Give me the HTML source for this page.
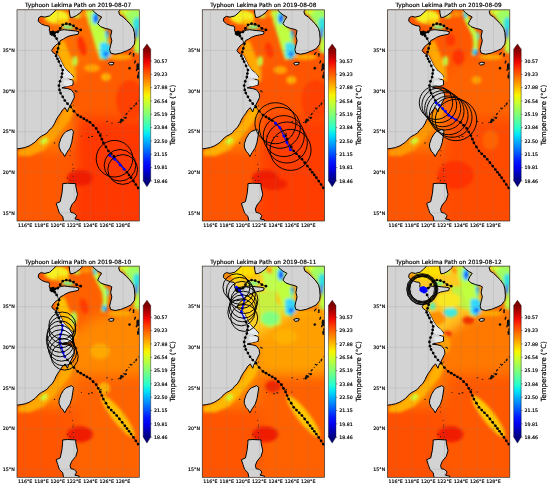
<!DOCTYPE html>
<html><head><meta charset="utf-8"><style>
html,body{margin:0;padding:0;background:#fff;overflow:hidden;}
body>svg{display:block;filter:blur(0.3px);}
text{font-family:"DejaVu Sans","Liberation Sans",sans-serif;fill:#000;stroke:#000;stroke-width:0.18px;}
.t{font-size:5.8px;}
.k{font-size:4.75px;}
.c{font-size:4.7px;}
.l{font-size:7px;}
</style></head><body>
<svg width="550" height="488" viewBox="0 0 550 488">
<defs>

<linearGradient id="jet" x1="0" y1="0" x2="0" y2="1"><stop offset="0.000" stop-color="#800000"/><stop offset="0.050" stop-color="#b60000"/><stop offset="0.100" stop-color="#f10800"/><stop offset="0.150" stop-color="#ff3800"/><stop offset="0.200" stop-color="#ff6800"/><stop offset="0.250" stop-color="#ff9400"/><stop offset="0.300" stop-color="#ffc400"/><stop offset="0.350" stop-color="#f8f500"/><stop offset="0.400" stop-color="#ceff29"/><stop offset="0.450" stop-color="#a4ff53"/><stop offset="0.500" stop-color="#7dff7a"/><stop offset="0.550" stop-color="#53ffa4"/><stop offset="0.600" stop-color="#29ffce"/><stop offset="0.650" stop-color="#00e4f8"/><stop offset="0.700" stop-color="#00b0ff"/><stop offset="0.750" stop-color="#0080ff"/><stop offset="0.800" stop-color="#004cff"/><stop offset="0.850" stop-color="#0018ff"/><stop offset="0.900" stop-color="#0000f1"/><stop offset="0.950" stop-color="#0000b6"/><stop offset="1.000" stop-color="#000080"/></linearGradient>


<filter id="bb" x="-20%" y="-20%" width="140%" height="140%"><feGaussianBlur stdDeviation="6"/></filter>
<filter id="bl" x="-20%" y="-20%" width="140%" height="140%"><feGaussianBlur stdDeviation="1.6"/></filter>

</defs>

<g>
<text class="t" x="78.15" y="7.4" text-anchor="middle">Typhoon Lekima Path on 2019-08-07</text>
<svg x="17" y="9.8" width="122.3" height="211.2" viewBox="17 9.8 122.3 211.2" preserveAspectRatio="none" overflow="hidden">
<rect x="17" y="9.8" width="122.3" height="211.2" fill="#ff5200"/><g filter="url(#bb)"><polygon points="10,0 115,0 112,40 108,62 95,72 70,80 10,80" fill="#ff6c00"/><polygon points="95,62 112,58 150,40 150,128 72,128 68,82" fill="#ff5c00"/><polygon points="72,118 150,118 150,230 70,230 78,160" fill="#ff3800"/><polygon points="0,150 70,150 76,160 70,230 0,230" fill="#ff5800"/><polygon points="30,110 72,105 75,130 70,150 30,150" fill="#ff7800"/></g><g filter="url(#bl)"><ellipse cx="80" cy="178" rx="13" ry="8" fill="#f01c00"/><polygon points="18,150 30,146 40,138 50,130 58,121 64,110 70,104 74,110 70,120 62,130 54,140 44,150 30,156 18,156" fill="#ffa000"/><ellipse cx="44" cy="141" rx="4" ry="2.5" fill="#c8ff30" transform="rotate(-35 44 141)"/><ellipse cx="65" cy="117" rx="5" ry="9" fill="#ffa000" transform="rotate(35 65 117)"/><ellipse cx="82" cy="46" rx="4" ry="10" fill="#ff3000" transform="rotate(-15 82 46)"/><ellipse cx="130" cy="100" rx="14" ry="20" fill="#ff4000"/><polygon points="57,44 64,40 70,55 76,70 76,82 70,80 64,68 60,58 56,50" fill="#ffb000"/><ellipse cx="75" cy="61" rx="2.5" ry="5" fill="#c0ff40"/><ellipse cx="106" cy="77" rx="5" ry="4" fill="#ffb000"/><ellipse cx="92" cy="68" rx="8" ry="4" fill="#ffa000"/><ellipse cx="57" cy="17" rx="12" ry="7" fill="#f4f020"/><ellipse cx="62" cy="22" rx="7" ry="3" fill="#ffc000"/><ellipse cx="41" cy="20" rx="3" ry="3" fill="#ff5000"/><ellipse cx="86" cy="14" rx="5" ry="3" fill="#ff9000"/><ellipse cx="77" cy="16" rx="3.5" ry="2.2" fill="#c8f040"/><ellipse cx="68" cy="27" rx="6" ry="2" fill="#70ff90"/><polygon points="86,10 95,10 100,18 104,28 108,38 110,48 108,58 100,60 96,48 92,34 88,22" fill="#c0ff40"/><ellipse cx="95.5" cy="18" rx="3.5" ry="6.5" fill="#30d8ff"/><polygon points="100,43 106,42 111,46 111,56 106,60 100,57" fill="#30d8ff"/><ellipse cx="106.8" cy="35" rx="1.8" ry="5" fill="#50ecd0"/><ellipse cx="96" cy="18.7" rx="2" ry="4" fill="#0030ff"/><ellipse cx="106" cy="54" rx="2.2" ry="2.2" fill="#0030ff"/><ellipse cx="107.2" cy="33" rx="1.3" ry="2.2" fill="#0070ff"/><polygon points="119,9 141,9 141,54 134,52 136,40 131,26 124,16" fill="#a0ff60"/><ellipse cx="124" cy="12" rx="5" ry="3" fill="#d0ff30"/><ellipse cx="137" cy="24" rx="4" ry="7" fill="#30e0e0"/><ellipse cx="137" cy="46" rx="3" ry="6" fill="#c0ff40"/><ellipse cx="136.3" cy="33" rx="1.5" ry="5" fill="#0050ff"/><ellipse cx="120" cy="57" rx="12" ry="3" fill="#ffa800"/></g><g fill="#d3d3d3" stroke="#000" stroke-width="1" stroke-linejoin="round"><polygon points="4.77,151.14 17,148.87 21.08,148.3 25.15,147.48 29.23,145.86 31.68,144.4 34.94,142.2 39.18,137.66 41.46,136.11 43.9,134.89 47.17,132.86 49.2,130.02 52.06,127.58 54.67,123.28 55.73,120.68 58.01,116.7 60.21,113.77 62.49,109.96 65.1,107.68 67.47,111.99 68.36,108.9 69.83,106.46 72.11,101.91 74.4,97.28 73.91,93.3 71.14,89.73 67.55,88.59 61.92,87.86 67.55,86.16 73.01,84.94 73.01,80.47 68.36,78.44 65.92,76.81 69.99,76.41 73.42,76.81 70.24,73.08 66.49,69.91 63.72,66.58 61.03,61.14 58.17,55.53 55.32,54.07 52.87,52.45 51.65,50.41 53.69,47.17 56.13,44.73 59.4,42.7 60.21,40.67 63.47,39.04 65.92,37.42 69.99,35.79 74.07,34.98 78.15,34.17 78.96,31.73 75.7,30.92 70.81,30.51 67.55,30.11 64.29,29.7 61.03,30.11 57.77,31.73 53.69,33.36 50.43,32.95 49.2,30.11 49.61,28.08 48.8,26.05 45.54,25.64 41.46,24.02 38.2,21.17 38.61,17.92 41.05,16.3 44.72,17.11 49.61,15.89 52.87,13.05 56.13,9.8 61.84,4.93 69.18,4.93 69.18,9.8 69.59,13.86 70.4,17.52 73.26,17.11 76.52,15.49 79.78,13.05 81.82,11.02 83.04,7.36 92.66,7.36 92.66,10.29 94.86,12.48 97.71,14.84 101.71,17.03 99.35,20.36 97.71,23.77 100.49,26.61 105.05,28.32 109.62,29.38 111.82,30.51 110.68,36.2 111.82,40.67 110.68,45.22 109.62,49.68 110.68,53.1 115.16,54.23 120.79,53.1 126.49,50.82 130.98,48.63 134.4,44.08 134.89,39.61 134.4,32.79 133.18,28.32 129.92,23.77 126.49,20.36 123.07,17.03 119.73,14.84 118.59,11.42 119.73,10.29 121.36,5.74 147.45,1.68 147.45,-30.81 -23.77,-30.81 -23.77,151.14"/><polygon points="71.3,129.37 73.5,131.08 72.85,135.71 71.79,142.2 69.99,147.89 66.73,152.76 64.7,156.58 63.06,153.58 60.78,151.14 59.07,147.08 59.07,143.83 61.03,138.14 63.47,134.08 65.84,131.64"/><polygon points="62.66,183.63 67.55,183.23 75.78,183.63 75.78,186.23 77.5,194.44 75.78,200.12 71.71,205 70.08,209.14 70.89,212.39 74.23,213.2 76.6,215.72 74.97,218.97 79.13,219.78 79.78,225.06 63.47,225.06 63.47,220.59 62.66,216.37 59.4,213.2 57.77,208.33 56.13,203.37 60.21,201.67 61.92,193.46 62.66,186.23"/><polygon points="108.31,63.41 110.76,62.19 114.02,62.6 113.21,64.63 109.94,65.04"/><ellipse cx="133.59" cy="54.48" rx="0.86" ry="1.42" fill="#111" stroke="none"/><ellipse cx="129.51" cy="68.29" rx="1.26" ry="1.42" fill="#111" stroke="none"/><ellipse cx="138.07" cy="66.66" rx="1.71" ry="3.41" fill="#111" stroke="none"/><ellipse cx="138.07" cy="76.41" rx="1.14" ry="2.27" fill="#111" stroke="none"/><ellipse cx="136.03" cy="104.03" rx="0.86" ry="1.14" fill="#111" stroke="none"/><ellipse cx="134.4" cy="105.65" rx="0.68" ry="0.57" fill="#111" stroke="none"/><ellipse cx="130.33" cy="108.09" rx="0.86" ry="0.57" fill="#111" stroke="none"/><ellipse cx="125.43" cy="117.84" rx="1.43" ry="1.14" fill="#111" stroke="none"/><ellipse cx="122.17" cy="120.27" rx="1.71" ry="1.42" fill="#111" stroke="none"/><ellipse cx="120.54" cy="121.9" rx="1.14" ry="1.42" fill="#111" stroke="none"/><ellipse cx="106.68" cy="135.71" rx="0.57" ry="0.5" fill="#111" stroke="none"/><ellipse cx="100.98" cy="133.27" rx="0.86" ry="0.57" fill="#111" stroke="none"/><ellipse cx="92.01" cy="136.52" rx="1.14" ry="0.57" fill="#111" stroke="none"/><ellipse cx="88.75" cy="137.33" rx="0.86" ry="0.57" fill="#111" stroke="none"/><ellipse cx="81.41" cy="136.11" rx="0.57" ry="0.5" fill="#111" stroke="none"/><ellipse cx="69.99" cy="155.61" rx="0.5" ry="0.5" fill="#111" stroke="none"/><ellipse cx="70.4" cy="150.73" rx="0.5" ry="0.5" fill="#111" stroke="none"/><ellipse cx="73.26" cy="168.6" rx="0.5" ry="0.5" fill="#111" stroke="none"/><ellipse cx="72.44" cy="164.14" rx="0.5" ry="0.5" fill="#111" stroke="none"/><ellipse cx="54.5" cy="143.02" rx="0.68" ry="0.68" fill="#111" stroke="none"/><ellipse cx="67.55" cy="177.95" rx="0.57" ry="0.57" fill="#111" stroke="none"/><ellipse cx="69.99" cy="180.38" rx="0.57" ry="0.5" fill="#111" stroke="none"/><ellipse cx="73.26" cy="176.32" rx="0.5" ry="0.5" fill="#111" stroke="none"/><ellipse cx="73.66" cy="180.79" rx="0.5" ry="0.5" fill="#111" stroke="none"/><ellipse cx="72.85" cy="170.64" rx="0.5" ry="0.5" fill="#111" stroke="none"/><ellipse cx="75.7" cy="91.03" rx="1.14" ry="0.68" fill="#111" stroke="none"/><ellipse cx="76.92" cy="91.84" rx="0.68" ry="0.57" fill="#111" stroke="none"/><ellipse cx="73.26" cy="105.65" rx="0.5" ry="0.5" fill="#111" stroke="none"/><ellipse cx="130" cy="53.5" rx="2" ry="0.6" transform="rotate(-50 130 53.5)" fill="#111" stroke="none"/><ellipse cx="133.5" cy="56" rx="1" ry="0.6" transform="rotate(0 133.5 56)" fill="#111" stroke="none"/><ellipse cx="135" cy="62" rx="0.8" ry="1.8" transform="rotate(20 135 62)" fill="#111" stroke="none"/><ellipse cx="137.5" cy="65" rx="0.7" ry="1.5" transform="rotate(0 137.5 65)" fill="#111" stroke="none"/><ellipse cx="136.5" cy="70" rx="0.7" ry="1.2" transform="rotate(0 136.5 70)" fill="#111" stroke="none"/><ellipse cx="138.5" cy="73" rx="0.6" ry="1.6" transform="rotate(0 138.5 73)" fill="#111" stroke="none"/><ellipse cx="138.8" cy="100.5" rx="0.6" ry="0.6" transform="rotate(0 138.8 100.5)" fill="#111" stroke="none"/><ellipse cx="136.5" cy="103" rx="0.9" ry="0.6" transform="rotate(-40 136.5 103)" fill="#111" stroke="none"/><ellipse cx="134" cy="106" rx="0.7" ry="0.5" transform="rotate(0 134 106)" fill="#111" stroke="none"/><ellipse cx="131.5" cy="108.5" rx="1.3" ry="0.6" transform="rotate(-45 131.5 108.5)" fill="#111" stroke="none"/><ellipse cx="129" cy="111" rx="0.6" ry="0.5" transform="rotate(0 129 111)" fill="#111" stroke="none"/><ellipse cx="126.5" cy="114" rx="1.5" ry="0.7" transform="rotate(-50 126.5 114)" fill="#111" stroke="none"/><ellipse cx="123.5" cy="117" rx="0.7" ry="0.5" transform="rotate(0 123.5 117)" fill="#111" stroke="none"/><ellipse cx="121" cy="119.5" rx="1.2" ry="0.6" transform="rotate(-40 121 119.5)" fill="#111" stroke="none"/><ellipse cx="118.5" cy="122.5" rx="0.8" ry="0.5" transform="rotate(0 118.5 122.5)" fill="#111" stroke="none"/><ellipse cx="112" cy="123" rx="0.8" ry="0.5" transform="rotate(0 112 123)" fill="#111" stroke="none"/><ellipse cx="107" cy="121.5" rx="0.9" ry="0.6" transform="rotate(-20 107 121.5)" fill="#111" stroke="none"/></g><g fill="#e6e9ec"><polygon points="56.5,54.5 58.2,55.5 61,61.1 63.75,66.6 66.5,69.9 63,70.5 59.5,62 56,55.5"/><polygon points="62.5,70.8 66.5,70.2 70.2,73.3 73,76.6 72.5,79 67,78.5 63,76.5"/><polygon points="64,80.5 72.5,80.5 72,85 66,86.5 63.5,84"/></g><path d="M25.15 9.8V221M41.46 9.8V221M57.77 9.8V221M74.07 9.8V221M90.38 9.8V221M106.68 9.8V221M122.99 9.8V221M17 212.88H139.3M17 172.26H139.3M17 131.64H139.3M17 91.03H139.3M17 50.41H139.3" stroke="#808080" stroke-opacity="0.28" stroke-width="0.6" fill="none"/><g fill="#000"><polyline points="138.2,187.9 131.1,177.7 124.9,169.5 116.7,159.2 108.5,151 103.4,142.8 100.3,135.6 96.2,128.4 90,122.3 77.7,115.1 73.9,111.2 70.7,106.9 67.5,103.7 64.8,100.5 62.7,96.8 60.55,93.1 59.5,89.9 58.95,85.6 60,81.3 61.6,77.1 62.7,70.1 58.95,61.6 56.1,56 57.1,52 58.1,48.4 59.2,43.7 56.6,38.6 53,33.5 57.6,31.9 60.2,28.4 62.75,24.8 66.3,23.7 69.9,24.3 73.5,25.8 76.6,28.4 80.7,29.9" fill="none" stroke="#000" stroke-width="0.7"/><circle cx="138.2" cy="187.9" r="1.35"/><circle cx="135.83" cy="184.5" r="1.35"/><circle cx="133.47" cy="181.1" r="1.35"/><circle cx="131.1" cy="177.7" r="1.35"/><circle cx="129.03" cy="174.97" r="1.35"/><circle cx="126.97" cy="172.23" r="1.35"/><circle cx="113.97" cy="156.47" r="1.35"/><circle cx="111.23" cy="153.73" r="1.35"/><circle cx="108.5" cy="151" r="1.35"/><circle cx="105.95" cy="146.9" r="1.35"/><circle cx="103.4" cy="142.8" r="1.35"/><circle cx="101.85" cy="139.2" r="1.35"/><circle cx="100.3" cy="135.6" r="1.35"/><circle cx="98.25" cy="132" r="1.35"/><circle cx="96.2" cy="128.4" r="1.35"/><circle cx="93.1" cy="125.35" r="1.35"/><circle cx="90" cy="122.3" r="1.35"/><circle cx="86.92" cy="120.5" r="1.35"/><circle cx="83.85" cy="118.7" r="1.35"/><circle cx="80.78" cy="116.9" r="1.35"/><circle cx="77.7" cy="115.1" r="1.35"/><circle cx="73.9" cy="111.2" r="1.35"/><circle cx="70.7" cy="106.9" r="1.35"/><circle cx="67.5" cy="103.7" r="1.35"/><circle cx="64.8" cy="100.5" r="1.35"/><circle cx="62.7" cy="96.8" r="1.35"/><circle cx="60.55" cy="93.1" r="1.35"/><circle cx="59.5" cy="89.9" r="1.35"/><circle cx="58.95" cy="85.6" r="1.35"/><circle cx="60" cy="81.3" r="1.35"/><circle cx="61.6" cy="77.1" r="1.35"/><circle cx="62.15" cy="73.6" r="1.35"/><circle cx="62.7" cy="70.1" r="1.35"/><circle cx="60.83" cy="65.85" r="1.35"/><circle cx="58.95" cy="61.6" r="1.35"/><circle cx="57.53" cy="58.8" r="1.35"/><circle cx="56.1" cy="56" r="1.35"/><circle cx="57.1" cy="52" r="1.35"/><circle cx="58.1" cy="48.4" r="1.35"/><circle cx="59.2" cy="43.7" r="1.35"/><circle cx="56.6" cy="38.6" r="1.35"/><circle cx="54.8" cy="36.05" r="1.35"/><circle cx="53" cy="33.5" r="1.35"/><circle cx="57.6" cy="31.9" r="1.35"/><circle cx="60.2" cy="28.4" r="1.35"/><circle cx="62.75" cy="24.8" r="1.35"/><circle cx="66.3" cy="23.7" r="1.35"/><circle cx="69.9" cy="24.3" r="1.35"/><circle cx="73.5" cy="25.8" r="1.35"/><circle cx="76.6" cy="28.4" r="1.35"/><circle cx="80.7" cy="29.9" r="1.35"/><circle cx="51" cy="32.2" r="1.3"/><circle cx="53" cy="31.8" r="1.3"/><circle cx="55" cy="32.6" r="1.3"/><circle cx="52" cy="34.6" r="1.3"/><circle cx="54.2" cy="35" r="1.3"/><circle cx="53" cy="33.5" r="1.3"/><circle cx="50.8" cy="33.8" r="1.3"/></g><polyline points="109.7,155.4 114.7,159.2 120.2,165 124.1,169.2" fill="none" stroke="#0000ff" stroke-width="1.1"/><circle cx="109.7" cy="155.4" r="1.45" fill="#0000ff"/><circle cx="114.7" cy="159.2" r="1.45" fill="#0000ff"/><circle cx="120.2" cy="165" r="1.45" fill="#0000ff"/><circle cx="124.1" cy="169.2" r="1.45" fill="#0000ff"/><circle cx="114.5" cy="158.7" r="18.3" fill="none" stroke="#000" stroke-width="0.95"/><circle cx="120" cy="165.3" r="15.8" fill="none" stroke="#000" stroke-width="0.95"/><circle cx="122.7" cy="169.5" r="14.9" fill="none" stroke="#000" stroke-width="0.95"/>
</svg>
<rect x="17" y="9.8" width="122.3" height="211.2" fill="none" stroke="#333" stroke-width="0.7"/>
<text class="k" x="14.8" y="52.12" text-anchor="end">35°N</text>
<text class="k" x="14.8" y="92.73" text-anchor="end">30°N</text>
<text class="k" x="14.8" y="133.35" text-anchor="end">25°N</text>
<text class="k" x="14.8" y="173.96" text-anchor="end">20°N</text>
<text class="k" x="14.8" y="214.58" text-anchor="end">15°N</text>
<text class="k" x="25.15" y="227" text-anchor="middle">116°E</text>
<text class="k" x="41.46" y="227" text-anchor="middle">118°E</text>
<text class="k" x="57.77" y="227" text-anchor="middle">120°E</text>
<text class="k" x="74.07" y="227" text-anchor="middle">122°E</text>
<text class="k" x="90.38" y="227" text-anchor="middle">124°E</text>
<text class="k" x="106.69" y="227" text-anchor="middle">126°E</text>
<text class="k" x="122.99" y="227" text-anchor="middle">128°E</text>
<polygon points="143.2,49.8 143.2,49.2 146.95,43.9 150.7,49.2 150.7,49.8" fill="#800000"/>
<polygon points="143.2,180.2 143.2,180.8 146.95,186.8 150.7,180.8 150.7,180.2" fill="#000080"/>
<rect x="143.2" y="49.2" width="7.5" height="131.6" fill="url(#jet)"/>
<polygon points="143.2,49.2 146.95,43.9 150.7,49.2 150.7,180.8 146.95,186.8 143.2,180.8" fill="none" stroke="#000" stroke-width="0.4"/>
<line x1="150.7" y1="61" x2="152.2" y2="61" stroke="#000" stroke-width="0.4"/>
<text class="c" x="154" y="62.7">30.57</text>
<line x1="150.7" y1="74.32" x2="152.2" y2="74.32" stroke="#000" stroke-width="0.4"/>
<text class="c" x="154" y="76.02">29.23</text>
<line x1="150.7" y1="87.64" x2="152.2" y2="87.64" stroke="#000" stroke-width="0.4"/>
<text class="c" x="154" y="89.34">27.88</text>
<line x1="150.7" y1="100.97" x2="152.2" y2="100.97" stroke="#000" stroke-width="0.4"/>
<text class="c" x="154" y="102.67">26.54</text>
<line x1="150.7" y1="114.29" x2="152.2" y2="114.29" stroke="#000" stroke-width="0.4"/>
<text class="c" x="154" y="115.99">25.19</text>
<line x1="150.7" y1="127.61" x2="152.2" y2="127.61" stroke="#000" stroke-width="0.4"/>
<text class="c" x="154" y="129.31">23.84</text>
<line x1="150.7" y1="140.93" x2="152.2" y2="140.93" stroke="#000" stroke-width="0.4"/>
<text class="c" x="154" y="142.63">22.50</text>
<line x1="150.7" y1="154.26" x2="152.2" y2="154.26" stroke="#000" stroke-width="0.4"/>
<text class="c" x="154" y="155.96">21.15</text>
<line x1="150.7" y1="167.58" x2="152.2" y2="167.58" stroke="#000" stroke-width="0.4"/>
<text class="c" x="154" y="169.28">19.81</text>
<line x1="150.7" y1="180.9" x2="152.2" y2="180.9" stroke="#000" stroke-width="0.4"/>
<text class="c" x="154" y="182.6">18.46</text>
<text class="l" transform="translate(175.4,115.1) rotate(-90)" text-anchor="middle">Temperature (°C)</text>
</g>

<g>
<text class="t" x="263.4" y="7.4" text-anchor="middle">Typhoon Lekima Path on 2019-08-08</text>
<svg x="202.25" y="9.8" width="122.3" height="211.2" viewBox="17 9.8 122.3 211.2" preserveAspectRatio="none" overflow="hidden">
<rect x="17" y="9.8" width="122.3" height="211.2" fill="#ff4c00"/><g filter="url(#bb)"><polygon points="10,0 115,0 112,40 108,62 95,72 70,80 10,80" fill="#ff5c00"/><polygon points="95,62 112,58 150,40 150,128 72,128 68,82" fill="#ff5400"/><polygon points="72,118 150,118 150,230 70,230 78,160" fill="#ff3c00"/><polygon points="0,150 70,150 76,160 70,230 0,230" fill="#ff5400"/><polygon points="30,110 72,105 75,130 70,150 30,150" fill="#ff7800"/></g><g filter="url(#bl)"><ellipse cx="80" cy="178" rx="13" ry="8" fill="#f01c00"/><polygon points="18,150 30,146 40,138 50,130 58,121 64,110 70,104 74,110 70,120 62,130 54,140 44,150 30,156 18,156" fill="#ffb000"/><ellipse cx="44" cy="141" rx="4" ry="2.5" fill="#c8ff30" transform="rotate(-35 44 141)"/><ellipse cx="65" cy="117" rx="5" ry="9" fill="#ffb000" transform="rotate(35 65 117)"/><ellipse cx="88" cy="184" rx="14" ry="6" fill="#f02400"/><ellipse cx="84" cy="50" rx="4" ry="8" fill="#ff3800" transform="rotate(-15 84 50)"/><ellipse cx="130" cy="100" rx="14" ry="20" fill="#ff4000"/><polygon points="57,44 64,40 70,55 76,70 76,82 70,80 64,68 60,58 56,50" fill="#ffa800"/><ellipse cx="75" cy="61" rx="2.5" ry="5" fill="#c0ff40"/><ellipse cx="106" cy="80" rx="5" ry="4" fill="#ffb000"/><ellipse cx="95" cy="70" rx="7" ry="4" fill="#ffa000"/><ellipse cx="57" cy="17" rx="12" ry="7" fill="#f4f020"/><ellipse cx="62" cy="22" rx="7" ry="3" fill="#ffc000"/><ellipse cx="41" cy="20" rx="3" ry="3" fill="#ff5000"/><ellipse cx="86" cy="14" rx="5" ry="3" fill="#ff9000"/><ellipse cx="77" cy="16" rx="3.5" ry="2.2" fill="#c8f040"/><ellipse cx="68" cy="27" rx="6" ry="2" fill="#70ff90"/><polygon points="86,10 95,10 100,18 104,28 108,38 110,48 108,58 100,60 96,48 92,34 88,22" fill="#c0ff40"/><ellipse cx="95.5" cy="18" rx="3.5" ry="6.5" fill="#40e0f0"/><polygon points="100,43 106,42 111,46 111,56 106,60 100,57" fill="#40e0f0"/><ellipse cx="106.8" cy="35" rx="1.8" ry="5" fill="#50ecd0"/><ellipse cx="96" cy="18.7" rx="2" ry="4" fill="#0030ff"/><ellipse cx="106" cy="54" rx="2.2" ry="2.2" fill="#0030ff"/><ellipse cx="107.2" cy="33" rx="1.3" ry="2.2" fill="#0070ff"/><polygon points="119,9 141,9 141,54 134,52 136,40 131,26 124,16" fill="#a0ff60"/><ellipse cx="124" cy="12" rx="5" ry="3" fill="#d0ff30"/><ellipse cx="137" cy="24" rx="4" ry="7" fill="#30e0e0"/><ellipse cx="137" cy="46" rx="3" ry="6" fill="#c0ff40"/><ellipse cx="136.3" cy="33" rx="1.5" ry="5" fill="#0050ff"/><ellipse cx="120" cy="57" rx="12" ry="3" fill="#ffa800"/></g><g fill="#d3d3d3" stroke="#000" stroke-width="1" stroke-linejoin="round"><polygon points="4.77,151.14 17,148.87 21.08,148.3 25.15,147.48 29.23,145.86 31.68,144.4 34.94,142.2 39.18,137.66 41.46,136.11 43.9,134.89 47.17,132.86 49.2,130.02 52.06,127.58 54.67,123.28 55.73,120.68 58.01,116.7 60.21,113.77 62.49,109.96 65.1,107.68 67.47,111.99 68.36,108.9 69.83,106.46 72.11,101.91 74.4,97.28 73.91,93.3 71.14,89.73 67.55,88.59 61.92,87.86 67.55,86.16 73.01,84.94 73.01,80.47 68.36,78.44 65.92,76.81 69.99,76.41 73.42,76.81 70.24,73.08 66.49,69.91 63.72,66.58 61.03,61.14 58.17,55.53 55.32,54.07 52.87,52.45 51.65,50.41 53.69,47.17 56.13,44.73 59.4,42.7 60.21,40.67 63.47,39.04 65.92,37.42 69.99,35.79 74.07,34.98 78.15,34.17 78.96,31.73 75.7,30.92 70.81,30.51 67.55,30.11 64.29,29.7 61.03,30.11 57.77,31.73 53.69,33.36 50.43,32.95 49.2,30.11 49.61,28.08 48.8,26.05 45.54,25.64 41.46,24.02 38.2,21.17 38.61,17.92 41.05,16.3 44.72,17.11 49.61,15.89 52.87,13.05 56.13,9.8 61.84,4.93 69.18,4.93 69.18,9.8 69.59,13.86 70.4,17.52 73.26,17.11 76.52,15.49 79.78,13.05 81.82,11.02 83.04,7.36 92.66,7.36 92.66,10.29 94.86,12.48 97.71,14.84 101.71,17.03 99.35,20.36 97.71,23.77 100.49,26.61 105.05,28.32 109.62,29.38 111.82,30.51 110.68,36.2 111.82,40.67 110.68,45.22 109.62,49.68 110.68,53.1 115.16,54.23 120.79,53.1 126.49,50.82 130.98,48.63 134.4,44.08 134.89,39.61 134.4,32.79 133.18,28.32 129.92,23.77 126.49,20.36 123.07,17.03 119.73,14.84 118.59,11.42 119.73,10.29 121.36,5.74 147.45,1.68 147.45,-30.81 -23.77,-30.81 -23.77,151.14"/><polygon points="71.3,129.37 73.5,131.08 72.85,135.71 71.79,142.2 69.99,147.89 66.73,152.76 64.7,156.58 63.06,153.58 60.78,151.14 59.07,147.08 59.07,143.83 61.03,138.14 63.47,134.08 65.84,131.64"/><polygon points="62.66,183.63 67.55,183.23 75.78,183.63 75.78,186.23 77.5,194.44 75.78,200.12 71.71,205 70.08,209.14 70.89,212.39 74.23,213.2 76.6,215.72 74.97,218.97 79.13,219.78 79.78,225.06 63.47,225.06 63.47,220.59 62.66,216.37 59.4,213.2 57.77,208.33 56.13,203.37 60.21,201.67 61.92,193.46 62.66,186.23"/><polygon points="108.31,63.41 110.76,62.19 114.02,62.6 113.21,64.63 109.94,65.04"/><ellipse cx="133.59" cy="54.48" rx="0.86" ry="1.42" fill="#111" stroke="none"/><ellipse cx="129.51" cy="68.29" rx="1.26" ry="1.42" fill="#111" stroke="none"/><ellipse cx="138.07" cy="66.66" rx="1.71" ry="3.41" fill="#111" stroke="none"/><ellipse cx="138.07" cy="76.41" rx="1.14" ry="2.27" fill="#111" stroke="none"/><ellipse cx="136.03" cy="104.03" rx="0.86" ry="1.14" fill="#111" stroke="none"/><ellipse cx="134.4" cy="105.65" rx="0.68" ry="0.57" fill="#111" stroke="none"/><ellipse cx="130.33" cy="108.09" rx="0.86" ry="0.57" fill="#111" stroke="none"/><ellipse cx="125.43" cy="117.84" rx="1.43" ry="1.14" fill="#111" stroke="none"/><ellipse cx="122.17" cy="120.27" rx="1.71" ry="1.42" fill="#111" stroke="none"/><ellipse cx="120.54" cy="121.9" rx="1.14" ry="1.42" fill="#111" stroke="none"/><ellipse cx="106.68" cy="135.71" rx="0.57" ry="0.5" fill="#111" stroke="none"/><ellipse cx="100.98" cy="133.27" rx="0.86" ry="0.57" fill="#111" stroke="none"/><ellipse cx="92.01" cy="136.52" rx="1.14" ry="0.57" fill="#111" stroke="none"/><ellipse cx="88.75" cy="137.33" rx="0.86" ry="0.57" fill="#111" stroke="none"/><ellipse cx="81.41" cy="136.11" rx="0.57" ry="0.5" fill="#111" stroke="none"/><ellipse cx="69.99" cy="155.61" rx="0.5" ry="0.5" fill="#111" stroke="none"/><ellipse cx="70.4" cy="150.73" rx="0.5" ry="0.5" fill="#111" stroke="none"/><ellipse cx="73.26" cy="168.6" rx="0.5" ry="0.5" fill="#111" stroke="none"/><ellipse cx="72.44" cy="164.14" rx="0.5" ry="0.5" fill="#111" stroke="none"/><ellipse cx="54.5" cy="143.02" rx="0.68" ry="0.68" fill="#111" stroke="none"/><ellipse cx="67.55" cy="177.95" rx="0.57" ry="0.57" fill="#111" stroke="none"/><ellipse cx="69.99" cy="180.38" rx="0.57" ry="0.5" fill="#111" stroke="none"/><ellipse cx="73.26" cy="176.32" rx="0.5" ry="0.5" fill="#111" stroke="none"/><ellipse cx="73.66" cy="180.79" rx="0.5" ry="0.5" fill="#111" stroke="none"/><ellipse cx="72.85" cy="170.64" rx="0.5" ry="0.5" fill="#111" stroke="none"/><ellipse cx="75.7" cy="91.03" rx="1.14" ry="0.68" fill="#111" stroke="none"/><ellipse cx="76.92" cy="91.84" rx="0.68" ry="0.57" fill="#111" stroke="none"/><ellipse cx="73.26" cy="105.65" rx="0.5" ry="0.5" fill="#111" stroke="none"/><ellipse cx="130" cy="53.5" rx="2" ry="0.6" transform="rotate(-50 130 53.5)" fill="#111" stroke="none"/><ellipse cx="133.5" cy="56" rx="1" ry="0.6" transform="rotate(0 133.5 56)" fill="#111" stroke="none"/><ellipse cx="135" cy="62" rx="0.8" ry="1.8" transform="rotate(20 135 62)" fill="#111" stroke="none"/><ellipse cx="137.5" cy="65" rx="0.7" ry="1.5" transform="rotate(0 137.5 65)" fill="#111" stroke="none"/><ellipse cx="136.5" cy="70" rx="0.7" ry="1.2" transform="rotate(0 136.5 70)" fill="#111" stroke="none"/><ellipse cx="138.5" cy="73" rx="0.6" ry="1.6" transform="rotate(0 138.5 73)" fill="#111" stroke="none"/><ellipse cx="138.8" cy="100.5" rx="0.6" ry="0.6" transform="rotate(0 138.8 100.5)" fill="#111" stroke="none"/><ellipse cx="136.5" cy="103" rx="0.9" ry="0.6" transform="rotate(-40 136.5 103)" fill="#111" stroke="none"/><ellipse cx="134" cy="106" rx="0.7" ry="0.5" transform="rotate(0 134 106)" fill="#111" stroke="none"/><ellipse cx="131.5" cy="108.5" rx="1.3" ry="0.6" transform="rotate(-45 131.5 108.5)" fill="#111" stroke="none"/><ellipse cx="129" cy="111" rx="0.6" ry="0.5" transform="rotate(0 129 111)" fill="#111" stroke="none"/><ellipse cx="126.5" cy="114" rx="1.5" ry="0.7" transform="rotate(-50 126.5 114)" fill="#111" stroke="none"/><ellipse cx="123.5" cy="117" rx="0.7" ry="0.5" transform="rotate(0 123.5 117)" fill="#111" stroke="none"/><ellipse cx="121" cy="119.5" rx="1.2" ry="0.6" transform="rotate(-40 121 119.5)" fill="#111" stroke="none"/><ellipse cx="118.5" cy="122.5" rx="0.8" ry="0.5" transform="rotate(0 118.5 122.5)" fill="#111" stroke="none"/><ellipse cx="112" cy="123" rx="0.8" ry="0.5" transform="rotate(0 112 123)" fill="#111" stroke="none"/><ellipse cx="107" cy="121.5" rx="0.9" ry="0.6" transform="rotate(-20 107 121.5)" fill="#111" stroke="none"/></g><g fill="#e6e9ec"><polygon points="56.5,54.5 58.2,55.5 61,61.1 63.75,66.6 66.5,69.9 63,70.5 59.5,62 56,55.5"/><polygon points="62.5,70.8 66.5,70.2 70.2,73.3 73,76.6 72.5,79 67,78.5 63,76.5"/><polygon points="64,80.5 72.5,80.5 72,85 66,86.5 63.5,84"/></g><path d="M25.15 9.8V221M41.46 9.8V221M57.77 9.8V221M74.07 9.8V221M90.38 9.8V221M106.68 9.8V221M122.99 9.8V221M17 212.88H139.3M17 172.26H139.3M17 131.64H139.3M17 91.03H139.3M17 50.41H139.3" stroke="#808080" stroke-opacity="0.28" stroke-width="0.6" fill="none"/><g fill="#000"><polyline points="138.2,187.9 131.1,177.7 124.9,169.5 116.7,159.2 108.5,151 103.4,142.8 100.3,135.6 96.2,128.4 90,122.3 77.7,115.1 73.9,111.2 70.7,106.9 67.5,103.7 64.8,100.5 62.7,96.8 60.55,93.1 59.5,89.9 58.95,85.6 60,81.3 61.6,77.1 62.7,70.1 58.95,61.6 56.1,56 57.1,52 58.1,48.4 59.2,43.7 56.6,38.6 53,33.5 57.6,31.9 60.2,28.4 62.75,24.8 66.3,23.7 69.9,24.3 73.5,25.8 76.6,28.4 80.7,29.9" fill="none" stroke="#000" stroke-width="0.7"/><circle cx="138.2" cy="187.9" r="1.35"/><circle cx="135.83" cy="184.5" r="1.35"/><circle cx="133.47" cy="181.1" r="1.35"/><circle cx="131.1" cy="177.7" r="1.35"/><circle cx="129.03" cy="174.97" r="1.35"/><circle cx="126.97" cy="172.23" r="1.35"/><circle cx="124.9" cy="169.5" r="1.35"/><circle cx="122.17" cy="166.07" r="1.35"/><circle cx="119.43" cy="162.63" r="1.35"/><circle cx="116.7" cy="159.2" r="1.35"/><circle cx="113.97" cy="156.47" r="1.35"/><circle cx="111.23" cy="153.73" r="1.35"/><circle cx="108.5" cy="151" r="1.35"/><circle cx="105.95" cy="146.9" r="1.35"/><circle cx="101.85" cy="139.2" r="1.35"/><circle cx="100.3" cy="135.6" r="1.35"/><circle cx="86.92" cy="120.5" r="1.35"/><circle cx="83.85" cy="118.7" r="1.35"/><circle cx="80.78" cy="116.9" r="1.35"/><circle cx="77.7" cy="115.1" r="1.35"/><circle cx="73.9" cy="111.2" r="1.35"/><circle cx="70.7" cy="106.9" r="1.35"/><circle cx="67.5" cy="103.7" r="1.35"/><circle cx="64.8" cy="100.5" r="1.35"/><circle cx="62.7" cy="96.8" r="1.35"/><circle cx="60.55" cy="93.1" r="1.35"/><circle cx="59.5" cy="89.9" r="1.35"/><circle cx="58.95" cy="85.6" r="1.35"/><circle cx="60" cy="81.3" r="1.35"/><circle cx="61.6" cy="77.1" r="1.35"/><circle cx="62.15" cy="73.6" r="1.35"/><circle cx="62.7" cy="70.1" r="1.35"/><circle cx="60.83" cy="65.85" r="1.35"/><circle cx="58.95" cy="61.6" r="1.35"/><circle cx="57.53" cy="58.8" r="1.35"/><circle cx="56.1" cy="56" r="1.35"/><circle cx="57.1" cy="52" r="1.35"/><circle cx="58.1" cy="48.4" r="1.35"/><circle cx="59.2" cy="43.7" r="1.35"/><circle cx="56.6" cy="38.6" r="1.35"/><circle cx="54.8" cy="36.05" r="1.35"/><circle cx="53" cy="33.5" r="1.35"/><circle cx="57.6" cy="31.9" r="1.35"/><circle cx="60.2" cy="28.4" r="1.35"/><circle cx="62.75" cy="24.8" r="1.35"/><circle cx="66.3" cy="23.7" r="1.35"/><circle cx="69.9" cy="24.3" r="1.35"/><circle cx="73.5" cy="25.8" r="1.35"/><circle cx="76.6" cy="28.4" r="1.35"/><circle cx="80.7" cy="29.9" r="1.35"/><circle cx="51" cy="32.2" r="1.3"/><circle cx="53" cy="31.8" r="1.3"/><circle cx="55" cy="32.6" r="1.3"/><circle cx="52" cy="34.6" r="1.3"/><circle cx="54.2" cy="35" r="1.3"/><circle cx="53" cy="33.5" r="1.3"/><circle cx="50.8" cy="33.8" r="1.3"/></g><polyline points="90.2,123.2 94.6,127.8 98.5,136.1 101.6,142.5 105.3,149.9" fill="none" stroke="#0000ff" stroke-width="1.1"/><circle cx="90.2" cy="123.2" r="1.45" fill="#0000ff"/><circle cx="94.6" cy="127.8" r="1.45" fill="#0000ff"/><circle cx="98.5" cy="136.1" r="1.45" fill="#0000ff"/><circle cx="101.6" cy="142.5" r="1.45" fill="#0000ff"/><circle cx="105.3" cy="149.9" r="1.45" fill="#0000ff"/><circle cx="90.2" cy="123.2" r="20.5" fill="none" stroke="#000" stroke-width="0.95"/><circle cx="94.6" cy="127.8" r="20.5" fill="none" stroke="#000" stroke-width="0.95"/><circle cx="98.5" cy="136.1" r="20.5" fill="none" stroke="#000" stroke-width="0.95"/><circle cx="101.6" cy="142.5" r="20.5" fill="none" stroke="#000" stroke-width="0.95"/><circle cx="105.3" cy="149.9" r="20.5" fill="none" stroke="#000" stroke-width="0.95"/>
</svg>
<rect x="202.25" y="9.8" width="122.3" height="211.2" fill="none" stroke="#333" stroke-width="0.7"/>
<text class="k" x="200.05" y="52.12" text-anchor="end">35°N</text>
<text class="k" x="200.05" y="92.73" text-anchor="end">30°N</text>
<text class="k" x="200.05" y="133.35" text-anchor="end">25°N</text>
<text class="k" x="200.05" y="173.96" text-anchor="end">20°N</text>
<text class="k" x="200.05" y="214.58" text-anchor="end">15°N</text>
<text class="k" x="210.4" y="227" text-anchor="middle">116°E</text>
<text class="k" x="226.71" y="227" text-anchor="middle">118°E</text>
<text class="k" x="243.02" y="227" text-anchor="middle">120°E</text>
<text class="k" x="259.32" y="227" text-anchor="middle">122°E</text>
<text class="k" x="275.63" y="227" text-anchor="middle">124°E</text>
<text class="k" x="291.94" y="227" text-anchor="middle">126°E</text>
<text class="k" x="308.24" y="227" text-anchor="middle">128°E</text>
<polygon points="328.45,49.8 328.45,49.2 332.2,43.9 335.95,49.2 335.95,49.8" fill="#800000"/>
<polygon points="328.45,180.2 328.45,180.8 332.2,186.8 335.95,180.8 335.95,180.2" fill="#000080"/>
<rect x="328.45" y="49.2" width="7.5" height="131.6" fill="url(#jet)"/>
<polygon points="328.45,49.2 332.2,43.9 335.95,49.2 335.95,180.8 332.2,186.8 328.45,180.8" fill="none" stroke="#000" stroke-width="0.4"/>
<line x1="335.95" y1="61" x2="337.45" y2="61" stroke="#000" stroke-width="0.4"/>
<text class="c" x="339.25" y="62.7">30.57</text>
<line x1="335.95" y1="74.32" x2="337.45" y2="74.32" stroke="#000" stroke-width="0.4"/>
<text class="c" x="339.25" y="76.02">29.23</text>
<line x1="335.95" y1="87.64" x2="337.45" y2="87.64" stroke="#000" stroke-width="0.4"/>
<text class="c" x="339.25" y="89.34">27.88</text>
<line x1="335.95" y1="100.97" x2="337.45" y2="100.97" stroke="#000" stroke-width="0.4"/>
<text class="c" x="339.25" y="102.67">26.54</text>
<line x1="335.95" y1="114.29" x2="337.45" y2="114.29" stroke="#000" stroke-width="0.4"/>
<text class="c" x="339.25" y="115.99">25.19</text>
<line x1="335.95" y1="127.61" x2="337.45" y2="127.61" stroke="#000" stroke-width="0.4"/>
<text class="c" x="339.25" y="129.31">23.84</text>
<line x1="335.95" y1="140.93" x2="337.45" y2="140.93" stroke="#000" stroke-width="0.4"/>
<text class="c" x="339.25" y="142.63">22.50</text>
<line x1="335.95" y1="154.26" x2="337.45" y2="154.26" stroke="#000" stroke-width="0.4"/>
<text class="c" x="339.25" y="155.96">21.15</text>
<line x1="335.95" y1="167.58" x2="337.45" y2="167.58" stroke="#000" stroke-width="0.4"/>
<text class="c" x="339.25" y="169.28">19.81</text>
<line x1="335.95" y1="180.9" x2="337.45" y2="180.9" stroke="#000" stroke-width="0.4"/>
<text class="c" x="339.25" y="182.6">18.46</text>
<text class="l" transform="translate(360.65,115.1) rotate(-90)" text-anchor="middle">Temperature (°C)</text>
</g>

<g>
<text class="t" x="448.65" y="7.4" text-anchor="middle">Typhoon Lekima Path on 2019-08-09</text>
<svg x="387.5" y="9.8" width="122.3" height="211.2" viewBox="17 9.8 122.3 211.2" preserveAspectRatio="none" overflow="hidden">
<rect x="17" y="9.8" width="122.3" height="211.2" fill="#ff5000"/><g filter="url(#bb)"><polygon points="10,0 115,0 112,40 108,62 95,72 70,80 10,80" fill="#ff5800"/><polygon points="95,62 112,58 150,40 150,128 72,128 68,82" fill="#ff6400"/><polygon points="72,118 150,118 150,230 70,230 78,160" fill="#ff4c00"/><polygon points="0,150 70,150 76,160 70,230 0,230" fill="#ff5400"/><polygon points="30,110 72,105 75,130 70,150 30,150" fill="#ff7800"/></g><g filter="url(#bl)"><ellipse cx="80" cy="178" rx="13" ry="8" fill="#f01c00"/><polygon points="18,150 30,146 40,138 50,130 58,121 64,110 70,104 74,110 70,120 62,130 54,140 44,150 30,156 18,156" fill="#ff9800"/><ellipse cx="44" cy="141" rx="4" ry="2.5" fill="#c8ff30" transform="rotate(-35 44 141)"/><ellipse cx="65" cy="117" rx="5" ry="9" fill="#ff9800" transform="rotate(35 65 117)"/><ellipse cx="120" cy="140" rx="8" ry="10" fill="#ff6400"/><ellipse cx="85" cy="175" rx="18" ry="14" fill="#ff3000"/><ellipse cx="88" cy="57" rx="6" ry="8" fill="#ff3000"/><ellipse cx="80" cy="40" rx="5" ry="6" fill="#ff3800"/><polygon points="57,44 64,40 70,55 76,70 76,82 70,80 64,68 60,58 56,50" fill="#ffa800"/><ellipse cx="75" cy="61" rx="2.5" ry="5" fill="#c0ff40"/><ellipse cx="106" cy="80" rx="5" ry="4" fill="#ffa000"/><ellipse cx="57" cy="17" rx="12" ry="7" fill="#f4f020"/><ellipse cx="62" cy="22" rx="7" ry="3" fill="#ffc000"/><ellipse cx="41" cy="20" rx="3" ry="3" fill="#ff5000"/><ellipse cx="86" cy="14" rx="5" ry="3" fill="#ff9000"/><ellipse cx="77" cy="16" rx="3.5" ry="2.2" fill="#c8f040"/><ellipse cx="68" cy="27" rx="6" ry="2" fill="#70ff90"/><polygon points="92,11 95,11 99,18 102,26 106,32 108,42 107,52 104,56 101,55 103,45 102,36 98,28 94,20" fill="#c0ff40"/><ellipse cx="95" cy="15" rx="1.8" ry="3.5" fill="#30d8ff"/><ellipse cx="104.5" cy="52" rx="2.6" ry="3.2" fill="#30d8ff"/><ellipse cx="107.5" cy="36" rx="1.5" ry="4" fill="#60f0c0"/><ellipse cx="105.5" cy="53" rx="1.5" ry="1.8" fill="#0080ff"/><polygon points="119,9 141,9 141,54 134,52 136,40 131,26 124,16" fill="#a0ff60"/><ellipse cx="124" cy="12" rx="5" ry="3" fill="#d0ff30"/><ellipse cx="137" cy="24" rx="4" ry="7" fill="#30e0e0"/><ellipse cx="137" cy="46" rx="3" ry="6" fill="#c0ff40"/><ellipse cx="136.3" cy="33" rx="1.5" ry="5" fill="#0050ff"/><ellipse cx="120" cy="57" rx="12" ry="3" fill="#ffa800"/></g><g fill="#d3d3d3" stroke="#000" stroke-width="1" stroke-linejoin="round"><polygon points="4.77,151.14 17,148.87 21.08,148.3 25.15,147.48 29.23,145.86 31.68,144.4 34.94,142.2 39.18,137.66 41.46,136.11 43.9,134.89 47.17,132.86 49.2,130.02 52.06,127.58 54.67,123.28 55.73,120.68 58.01,116.7 60.21,113.77 62.49,109.96 65.1,107.68 67.47,111.99 68.36,108.9 69.83,106.46 72.11,101.91 74.4,97.28 73.91,93.3 71.14,89.73 67.55,88.59 61.92,87.86 67.55,86.16 73.01,84.94 73.01,80.47 68.36,78.44 65.92,76.81 69.99,76.41 73.42,76.81 70.24,73.08 66.49,69.91 63.72,66.58 61.03,61.14 58.17,55.53 55.32,54.07 52.87,52.45 51.65,50.41 53.69,47.17 56.13,44.73 59.4,42.7 60.21,40.67 63.47,39.04 65.92,37.42 69.99,35.79 74.07,34.98 78.15,34.17 78.96,31.73 75.7,30.92 70.81,30.51 67.55,30.11 64.29,29.7 61.03,30.11 57.77,31.73 53.69,33.36 50.43,32.95 49.2,30.11 49.61,28.08 48.8,26.05 45.54,25.64 41.46,24.02 38.2,21.17 38.61,17.92 41.05,16.3 44.72,17.11 49.61,15.89 52.87,13.05 56.13,9.8 61.84,4.93 69.18,4.93 69.18,9.8 69.59,13.86 70.4,17.52 73.26,17.11 76.52,15.49 79.78,13.05 81.82,11.02 83.04,7.36 92.66,7.36 92.66,10.29 94.86,12.48 97.71,14.84 101.71,17.03 99.35,20.36 97.71,23.77 100.49,26.61 105.05,28.32 109.62,29.38 111.82,30.51 110.68,36.2 111.82,40.67 110.68,45.22 109.62,49.68 110.68,53.1 115.16,54.23 120.79,53.1 126.49,50.82 130.98,48.63 134.4,44.08 134.89,39.61 134.4,32.79 133.18,28.32 129.92,23.77 126.49,20.36 123.07,17.03 119.73,14.84 118.59,11.42 119.73,10.29 121.36,5.74 147.45,1.68 147.45,-30.81 -23.77,-30.81 -23.77,151.14"/><polygon points="71.3,129.37 73.5,131.08 72.85,135.71 71.79,142.2 69.99,147.89 66.73,152.76 64.7,156.58 63.06,153.58 60.78,151.14 59.07,147.08 59.07,143.83 61.03,138.14 63.47,134.08 65.84,131.64"/><polygon points="62.66,183.63 67.55,183.23 75.78,183.63 75.78,186.23 77.5,194.44 75.78,200.12 71.71,205 70.08,209.14 70.89,212.39 74.23,213.2 76.6,215.72 74.97,218.97 79.13,219.78 79.78,225.06 63.47,225.06 63.47,220.59 62.66,216.37 59.4,213.2 57.77,208.33 56.13,203.37 60.21,201.67 61.92,193.46 62.66,186.23"/><polygon points="108.31,63.41 110.76,62.19 114.02,62.6 113.21,64.63 109.94,65.04"/><ellipse cx="133.59" cy="54.48" rx="0.86" ry="1.42" fill="#111" stroke="none"/><ellipse cx="129.51" cy="68.29" rx="1.26" ry="1.42" fill="#111" stroke="none"/><ellipse cx="138.07" cy="66.66" rx="1.71" ry="3.41" fill="#111" stroke="none"/><ellipse cx="138.07" cy="76.41" rx="1.14" ry="2.27" fill="#111" stroke="none"/><ellipse cx="136.03" cy="104.03" rx="0.86" ry="1.14" fill="#111" stroke="none"/><ellipse cx="134.4" cy="105.65" rx="0.68" ry="0.57" fill="#111" stroke="none"/><ellipse cx="130.33" cy="108.09" rx="0.86" ry="0.57" fill="#111" stroke="none"/><ellipse cx="125.43" cy="117.84" rx="1.43" ry="1.14" fill="#111" stroke="none"/><ellipse cx="122.17" cy="120.27" rx="1.71" ry="1.42" fill="#111" stroke="none"/><ellipse cx="120.54" cy="121.9" rx="1.14" ry="1.42" fill="#111" stroke="none"/><ellipse cx="106.68" cy="135.71" rx="0.57" ry="0.5" fill="#111" stroke="none"/><ellipse cx="100.98" cy="133.27" rx="0.86" ry="0.57" fill="#111" stroke="none"/><ellipse cx="92.01" cy="136.52" rx="1.14" ry="0.57" fill="#111" stroke="none"/><ellipse cx="88.75" cy="137.33" rx="0.86" ry="0.57" fill="#111" stroke="none"/><ellipse cx="81.41" cy="136.11" rx="0.57" ry="0.5" fill="#111" stroke="none"/><ellipse cx="69.99" cy="155.61" rx="0.5" ry="0.5" fill="#111" stroke="none"/><ellipse cx="70.4" cy="150.73" rx="0.5" ry="0.5" fill="#111" stroke="none"/><ellipse cx="73.26" cy="168.6" rx="0.5" ry="0.5" fill="#111" stroke="none"/><ellipse cx="72.44" cy="164.14" rx="0.5" ry="0.5" fill="#111" stroke="none"/><ellipse cx="54.5" cy="143.02" rx="0.68" ry="0.68" fill="#111" stroke="none"/><ellipse cx="67.55" cy="177.95" rx="0.57" ry="0.57" fill="#111" stroke="none"/><ellipse cx="69.99" cy="180.38" rx="0.57" ry="0.5" fill="#111" stroke="none"/><ellipse cx="73.26" cy="176.32" rx="0.5" ry="0.5" fill="#111" stroke="none"/><ellipse cx="73.66" cy="180.79" rx="0.5" ry="0.5" fill="#111" stroke="none"/><ellipse cx="72.85" cy="170.64" rx="0.5" ry="0.5" fill="#111" stroke="none"/><ellipse cx="75.7" cy="91.03" rx="1.14" ry="0.68" fill="#111" stroke="none"/><ellipse cx="76.92" cy="91.84" rx="0.68" ry="0.57" fill="#111" stroke="none"/><ellipse cx="73.26" cy="105.65" rx="0.5" ry="0.5" fill="#111" stroke="none"/><ellipse cx="130" cy="53.5" rx="2" ry="0.6" transform="rotate(-50 130 53.5)" fill="#111" stroke="none"/><ellipse cx="133.5" cy="56" rx="1" ry="0.6" transform="rotate(0 133.5 56)" fill="#111" stroke="none"/><ellipse cx="135" cy="62" rx="0.8" ry="1.8" transform="rotate(20 135 62)" fill="#111" stroke="none"/><ellipse cx="137.5" cy="65" rx="0.7" ry="1.5" transform="rotate(0 137.5 65)" fill="#111" stroke="none"/><ellipse cx="136.5" cy="70" rx="0.7" ry="1.2" transform="rotate(0 136.5 70)" fill="#111" stroke="none"/><ellipse cx="138.5" cy="73" rx="0.6" ry="1.6" transform="rotate(0 138.5 73)" fill="#111" stroke="none"/><ellipse cx="138.8" cy="100.5" rx="0.6" ry="0.6" transform="rotate(0 138.8 100.5)" fill="#111" stroke="none"/><ellipse cx="136.5" cy="103" rx="0.9" ry="0.6" transform="rotate(-40 136.5 103)" fill="#111" stroke="none"/><ellipse cx="134" cy="106" rx="0.7" ry="0.5" transform="rotate(0 134 106)" fill="#111" stroke="none"/><ellipse cx="131.5" cy="108.5" rx="1.3" ry="0.6" transform="rotate(-45 131.5 108.5)" fill="#111" stroke="none"/><ellipse cx="129" cy="111" rx="0.6" ry="0.5" transform="rotate(0 129 111)" fill="#111" stroke="none"/><ellipse cx="126.5" cy="114" rx="1.5" ry="0.7" transform="rotate(-50 126.5 114)" fill="#111" stroke="none"/><ellipse cx="123.5" cy="117" rx="0.7" ry="0.5" transform="rotate(0 123.5 117)" fill="#111" stroke="none"/><ellipse cx="121" cy="119.5" rx="1.2" ry="0.6" transform="rotate(-40 121 119.5)" fill="#111" stroke="none"/><ellipse cx="118.5" cy="122.5" rx="0.8" ry="0.5" transform="rotate(0 118.5 122.5)" fill="#111" stroke="none"/><ellipse cx="112" cy="123" rx="0.8" ry="0.5" transform="rotate(0 112 123)" fill="#111" stroke="none"/><ellipse cx="107" cy="121.5" rx="0.9" ry="0.6" transform="rotate(-20 107 121.5)" fill="#111" stroke="none"/></g><g fill="#e6e9ec"><polygon points="56.5,54.5 58.2,55.5 61,61.1 63.75,66.6 66.5,69.9 63,70.5 59.5,62 56,55.5"/><polygon points="62.5,70.8 66.5,70.2 70.2,73.3 73,76.6 72.5,79 67,78.5 63,76.5"/><polygon points="64,80.5 72.5,80.5 72,85 66,86.5 63.5,84"/></g><path d="M25.15 9.8V221M41.46 9.8V221M57.77 9.8V221M74.07 9.8V221M90.38 9.8V221M106.68 9.8V221M122.99 9.8V221M17 212.88H139.3M17 172.26H139.3M17 131.64H139.3M17 91.03H139.3M17 50.41H139.3" stroke="#808080" stroke-opacity="0.28" stroke-width="0.6" fill="none"/><g fill="#000"><polyline points="138.2,187.9 131.1,177.7 124.9,169.5 116.7,159.2 108.5,151 103.4,142.8 100.3,135.6 96.2,128.4 90,122.3 77.7,115.1 73.9,111.2 70.7,106.9 67.5,103.7 64.8,100.5 62.7,96.8 60.55,93.1 59.5,89.9 58.95,85.6 60,81.3 61.6,77.1 62.7,70.1 58.95,61.6 56.1,56 57.1,52 58.1,48.4 59.2,43.7 56.6,38.6 53,33.5 57.6,31.9 60.2,28.4 62.75,24.8 66.3,23.7 69.9,24.3 73.5,25.8 76.6,28.4 80.7,29.9" fill="none" stroke="#000" stroke-width="0.7"/><circle cx="138.2" cy="187.9" r="1.35"/><circle cx="135.83" cy="184.5" r="1.35"/><circle cx="133.47" cy="181.1" r="1.35"/><circle cx="131.1" cy="177.7" r="1.35"/><circle cx="129.03" cy="174.97" r="1.35"/><circle cx="126.97" cy="172.23" r="1.35"/><circle cx="124.9" cy="169.5" r="1.35"/><circle cx="122.17" cy="166.07" r="1.35"/><circle cx="119.43" cy="162.63" r="1.35"/><circle cx="116.7" cy="159.2" r="1.35"/><circle cx="113.97" cy="156.47" r="1.35"/><circle cx="111.23" cy="153.73" r="1.35"/><circle cx="108.5" cy="151" r="1.35"/><circle cx="105.95" cy="146.9" r="1.35"/><circle cx="103.4" cy="142.8" r="1.35"/><circle cx="101.85" cy="139.2" r="1.35"/><circle cx="100.3" cy="135.6" r="1.35"/><circle cx="98.25" cy="132" r="1.35"/><circle cx="96.2" cy="128.4" r="1.35"/><circle cx="93.1" cy="125.35" r="1.35"/><circle cx="90" cy="122.3" r="1.35"/><circle cx="64.8" cy="100.5" r="1.35"/><circle cx="62.7" cy="96.8" r="1.35"/><circle cx="60.55" cy="93.1" r="1.35"/><circle cx="59.5" cy="89.9" r="1.35"/><circle cx="58.95" cy="85.6" r="1.35"/><circle cx="60" cy="81.3" r="1.35"/><circle cx="61.6" cy="77.1" r="1.35"/><circle cx="62.15" cy="73.6" r="1.35"/><circle cx="62.7" cy="70.1" r="1.35"/><circle cx="60.83" cy="65.85" r="1.35"/><circle cx="58.95" cy="61.6" r="1.35"/><circle cx="57.53" cy="58.8" r="1.35"/><circle cx="56.1" cy="56" r="1.35"/><circle cx="57.1" cy="52" r="1.35"/><circle cx="58.1" cy="48.4" r="1.35"/><circle cx="59.2" cy="43.7" r="1.35"/><circle cx="56.6" cy="38.6" r="1.35"/><circle cx="54.8" cy="36.05" r="1.35"/><circle cx="53" cy="33.5" r="1.35"/><circle cx="57.6" cy="31.9" r="1.35"/><circle cx="60.2" cy="28.4" r="1.35"/><circle cx="62.75" cy="24.8" r="1.35"/><circle cx="66.3" cy="23.7" r="1.35"/><circle cx="69.9" cy="24.3" r="1.35"/><circle cx="73.5" cy="25.8" r="1.35"/><circle cx="76.6" cy="28.4" r="1.35"/><circle cx="80.7" cy="29.9" r="1.35"/><circle cx="51" cy="32.2" r="1.3"/><circle cx="53" cy="31.8" r="1.3"/><circle cx="55" cy="32.6" r="1.3"/><circle cx="52" cy="34.6" r="1.3"/><circle cx="54.2" cy="35" r="1.3"/><circle cx="53" cy="33.5" r="1.3"/><circle cx="50.8" cy="33.8" r="1.3"/></g><polyline points="65.5,102.7 68.8,105.3 72.2,108.7 74.8,111.3 78.2,115.3 81.5,117.3 85.5,120" fill="none" stroke="#0000ff" stroke-width="1.1"/><circle cx="65.5" cy="102.7" r="1.45" fill="#0000ff"/><circle cx="68.8" cy="105.3" r="1.45" fill="#0000ff"/><circle cx="72.2" cy="108.7" r="1.45" fill="#0000ff"/><circle cx="74.8" cy="111.3" r="1.45" fill="#0000ff"/><circle cx="78.2" cy="115.3" r="1.45" fill="#0000ff"/><circle cx="81.5" cy="117.3" r="1.45" fill="#0000ff"/><circle cx="85.5" cy="120" r="1.45" fill="#0000ff"/><circle cx="65.5" cy="102.7" r="16.7" fill="none" stroke="#000" stroke-width="0.95"/><circle cx="68.8" cy="105.3" r="17.37" fill="none" stroke="#000" stroke-width="0.95"/><circle cx="72.2" cy="108.7" r="18.03" fill="none" stroke="#000" stroke-width="0.95"/><circle cx="74.8" cy="111.3" r="18.7" fill="none" stroke="#000" stroke-width="0.95"/><circle cx="78.2" cy="115.3" r="19.37" fill="none" stroke="#000" stroke-width="0.95"/><circle cx="81.5" cy="117.3" r="20.03" fill="none" stroke="#000" stroke-width="0.95"/><circle cx="85.5" cy="120" r="20.7" fill="none" stroke="#000" stroke-width="0.95"/>
</svg>
<rect x="387.5" y="9.8" width="122.3" height="211.2" fill="none" stroke="#333" stroke-width="0.7"/>
<text class="k" x="385.3" y="52.12" text-anchor="end">35°N</text>
<text class="k" x="385.3" y="92.73" text-anchor="end">30°N</text>
<text class="k" x="385.3" y="133.35" text-anchor="end">25°N</text>
<text class="k" x="385.3" y="173.96" text-anchor="end">20°N</text>
<text class="k" x="385.3" y="214.58" text-anchor="end">15°N</text>
<text class="k" x="395.65" y="227" text-anchor="middle">116°E</text>
<text class="k" x="411.96" y="227" text-anchor="middle">118°E</text>
<text class="k" x="428.27" y="227" text-anchor="middle">120°E</text>
<text class="k" x="444.57" y="227" text-anchor="middle">122°E</text>
<text class="k" x="460.88" y="227" text-anchor="middle">124°E</text>
<text class="k" x="477.19" y="227" text-anchor="middle">126°E</text>
<text class="k" x="493.49" y="227" text-anchor="middle">128°E</text>
<polygon points="513.7,49.8 513.7,49.2 517.45,43.9 521.2,49.2 521.2,49.8" fill="#800000"/>
<polygon points="513.7,180.2 513.7,180.8 517.45,186.8 521.2,180.8 521.2,180.2" fill="#000080"/>
<rect x="513.7" y="49.2" width="7.5" height="131.6" fill="url(#jet)"/>
<polygon points="513.7,49.2 517.45,43.9 521.2,49.2 521.2,180.8 517.45,186.8 513.7,180.8" fill="none" stroke="#000" stroke-width="0.4"/>
<line x1="521.2" y1="61" x2="522.7" y2="61" stroke="#000" stroke-width="0.4"/>
<text class="c" x="524.5" y="62.7">30.57</text>
<line x1="521.2" y1="74.32" x2="522.7" y2="74.32" stroke="#000" stroke-width="0.4"/>
<text class="c" x="524.5" y="76.02">29.23</text>
<line x1="521.2" y1="87.64" x2="522.7" y2="87.64" stroke="#000" stroke-width="0.4"/>
<text class="c" x="524.5" y="89.34">27.88</text>
<line x1="521.2" y1="100.97" x2="522.7" y2="100.97" stroke="#000" stroke-width="0.4"/>
<text class="c" x="524.5" y="102.67">26.54</text>
<line x1="521.2" y1="114.29" x2="522.7" y2="114.29" stroke="#000" stroke-width="0.4"/>
<text class="c" x="524.5" y="115.99">25.19</text>
<line x1="521.2" y1="127.61" x2="522.7" y2="127.61" stroke="#000" stroke-width="0.4"/>
<text class="c" x="524.5" y="129.31">23.84</text>
<line x1="521.2" y1="140.93" x2="522.7" y2="140.93" stroke="#000" stroke-width="0.4"/>
<text class="c" x="524.5" y="142.63">22.50</text>
<line x1="521.2" y1="154.26" x2="522.7" y2="154.26" stroke="#000" stroke-width="0.4"/>
<text class="c" x="524.5" y="155.96">21.15</text>
<line x1="521.2" y1="167.58" x2="522.7" y2="167.58" stroke="#000" stroke-width="0.4"/>
<text class="c" x="524.5" y="169.28">19.81</text>
<line x1="521.2" y1="180.9" x2="522.7" y2="180.9" stroke="#000" stroke-width="0.4"/>
<text class="c" x="524.5" y="182.6">18.46</text>
<text class="l" transform="translate(545.9,115.1) rotate(-90)" text-anchor="middle">Temperature (°C)</text>
</g>

<g>
<text class="t" x="78.15" y="263.7" text-anchor="middle">Typhoon Lekima Path on 2019-08-10</text>
<svg x="17" y="266.1" width="122.3" height="211.2" viewBox="17 9.8 122.3 211.2" preserveAspectRatio="none" overflow="hidden">
<rect x="17" y="9.8" width="122.3" height="211.2" fill="#ff5800"/><g filter="url(#bb)"><polygon points="10,0 115,0 112,40 108,62 95,72 70,80 10,80" fill="#ff6000"/><polygon points="95,62 112,58 150,40 150,128 72,128 68,82" fill="#ff8800"/><polygon points="72,118 150,118 150,230 70,230 78,160" fill="#ff6400"/><polygon points="0,150 70,150 76,160 70,230 0,230" fill="#ff5400"/><polygon points="30,110 72,105 75,130 70,150 30,150" fill="#ff8000"/></g><g filter="url(#bl)"><ellipse cx="80" cy="178" rx="13" ry="8" fill="#f01c00"/><polygon points="18,150 30,146 40,138 50,130 58,121 64,110 70,104 74,110 70,120 62,130 54,140 44,150 30,156 18,156" fill="#ffa800"/><ellipse cx="44" cy="141" rx="4" ry="2.5" fill="#c8ff30" transform="rotate(-35 44 141)"/><ellipse cx="65" cy="117" rx="5" ry="9" fill="#ffa800" transform="rotate(35 65 117)"/><ellipse cx="118" cy="160" rx="6" ry="26" fill="#ffc000" transform="rotate(-38 118 160)"/><ellipse cx="104" cy="132" rx="6" ry="6" fill="#ffb000"/><ellipse cx="100" cy="95" rx="10" ry="8" fill="#ffa800"/><ellipse cx="84" cy="50" rx="4" ry="8" fill="#ff3a00" transform="rotate(-15 84 50)"/><polygon points="57,44 64,40 70,55 76,70 76,82 70,80 64,68 60,58 56,50" fill="#ffc000"/><ellipse cx="74" cy="62" rx="3" ry="7" fill="#b0ff50"/><ellipse cx="57" cy="17" rx="12" ry="7" fill="#f4f020"/><ellipse cx="62" cy="22" rx="7" ry="3" fill="#ffc000"/><ellipse cx="41" cy="20" rx="3" ry="3" fill="#ff5000"/><ellipse cx="86" cy="14" rx="5" ry="3" fill="#ff9000"/><ellipse cx="77" cy="16" rx="3.5" ry="2.2" fill="#c8f040"/><ellipse cx="68" cy="27" rx="6" ry="2" fill="#70ff90"/><polygon points="92,11 95,11 99,18 102,26 106,32 108,42 107,52 104,56 101,55 103,45 102,36 98,28 94,20" fill="#c0ff40"/><ellipse cx="95" cy="15" rx="1.8" ry="3.5" fill="#30d8ff"/><ellipse cx="104.5" cy="52" rx="2.6" ry="3.2" fill="#30d8ff"/><ellipse cx="107.5" cy="36" rx="1.5" ry="4" fill="#60f0c0"/><ellipse cx="105.5" cy="53" rx="1.5" ry="1.8" fill="#0080ff"/><polygon points="119,9 141,9 141,54 134,52 136,40 131,26 124,16" fill="#a0ff60"/><ellipse cx="124" cy="12" rx="5" ry="3" fill="#d0ff30"/><ellipse cx="137" cy="24" rx="4" ry="7" fill="#30e0e0"/><ellipse cx="137" cy="46" rx="3" ry="6" fill="#c0ff40"/><ellipse cx="136.3" cy="33" rx="1.5" ry="5" fill="#0050ff"/><ellipse cx="120" cy="57" rx="12" ry="3" fill="#ffa800"/></g><g fill="#d3d3d3" stroke="#000" stroke-width="1" stroke-linejoin="round"><polygon points="4.77,151.14 17,148.87 21.08,148.3 25.15,147.48 29.23,145.86 31.68,144.4 34.94,142.2 39.18,137.66 41.46,136.11 43.9,134.89 47.17,132.86 49.2,130.02 52.06,127.58 54.67,123.28 55.73,120.68 58.01,116.7 60.21,113.77 62.49,109.96 65.1,107.68 67.47,111.99 68.36,108.9 69.83,106.46 72.11,101.91 74.4,97.28 73.91,93.3 71.14,89.73 67.55,88.59 61.92,87.86 67.55,86.16 73.01,84.94 73.01,80.47 68.36,78.44 65.92,76.81 69.99,76.41 73.42,76.81 70.24,73.08 66.49,69.91 63.72,66.58 61.03,61.14 58.17,55.53 55.32,54.07 52.87,52.45 51.65,50.41 53.69,47.17 56.13,44.73 59.4,42.7 60.21,40.67 63.47,39.04 65.92,37.42 69.99,35.79 74.07,34.98 78.15,34.17 78.96,31.73 75.7,30.92 70.81,30.51 67.55,30.11 64.29,29.7 61.03,30.11 57.77,31.73 53.69,33.36 50.43,32.95 49.2,30.11 49.61,28.08 48.8,26.05 45.54,25.64 41.46,24.02 38.2,21.17 38.61,17.92 41.05,16.3 44.72,17.11 49.61,15.89 52.87,13.05 56.13,9.8 61.84,4.93 69.18,4.93 69.18,9.8 69.59,13.86 70.4,17.52 73.26,17.11 76.52,15.49 79.78,13.05 81.82,11.02 83.04,7.36 92.66,7.36 92.66,10.29 94.86,12.48 97.71,14.84 101.71,17.03 99.35,20.36 97.71,23.77 100.49,26.61 105.05,28.32 109.62,29.38 111.82,30.51 110.68,36.2 111.82,40.67 110.68,45.22 109.62,49.68 110.68,53.1 115.16,54.23 120.79,53.1 126.49,50.82 130.98,48.63 134.4,44.08 134.89,39.61 134.4,32.79 133.18,28.32 129.92,23.77 126.49,20.36 123.07,17.03 119.73,14.84 118.59,11.42 119.73,10.29 121.36,5.74 147.45,1.68 147.45,-30.81 -23.77,-30.81 -23.77,151.14"/><polygon points="71.3,129.37 73.5,131.08 72.85,135.71 71.79,142.2 69.99,147.89 66.73,152.76 64.7,156.58 63.06,153.58 60.78,151.14 59.07,147.08 59.07,143.83 61.03,138.14 63.47,134.08 65.84,131.64"/><polygon points="62.66,183.63 67.55,183.23 75.78,183.63 75.78,186.23 77.5,194.44 75.78,200.12 71.71,205 70.08,209.14 70.89,212.39 74.23,213.2 76.6,215.72 74.97,218.97 79.13,219.78 79.78,225.06 63.47,225.06 63.47,220.59 62.66,216.37 59.4,213.2 57.77,208.33 56.13,203.37 60.21,201.67 61.92,193.46 62.66,186.23"/><polygon points="108.31,63.41 110.76,62.19 114.02,62.6 113.21,64.63 109.94,65.04"/><ellipse cx="133.59" cy="54.48" rx="0.86" ry="1.42" fill="#111" stroke="none"/><ellipse cx="129.51" cy="68.29" rx="1.26" ry="1.42" fill="#111" stroke="none"/><ellipse cx="138.07" cy="66.66" rx="1.71" ry="3.41" fill="#111" stroke="none"/><ellipse cx="138.07" cy="76.41" rx="1.14" ry="2.27" fill="#111" stroke="none"/><ellipse cx="136.03" cy="104.03" rx="0.86" ry="1.14" fill="#111" stroke="none"/><ellipse cx="134.4" cy="105.65" rx="0.68" ry="0.57" fill="#111" stroke="none"/><ellipse cx="130.33" cy="108.09" rx="0.86" ry="0.57" fill="#111" stroke="none"/><ellipse cx="125.43" cy="117.84" rx="1.43" ry="1.14" fill="#111" stroke="none"/><ellipse cx="122.17" cy="120.27" rx="1.71" ry="1.42" fill="#111" stroke="none"/><ellipse cx="120.54" cy="121.9" rx="1.14" ry="1.42" fill="#111" stroke="none"/><ellipse cx="106.68" cy="135.71" rx="0.57" ry="0.5" fill="#111" stroke="none"/><ellipse cx="100.98" cy="133.27" rx="0.86" ry="0.57" fill="#111" stroke="none"/><ellipse cx="92.01" cy="136.52" rx="1.14" ry="0.57" fill="#111" stroke="none"/><ellipse cx="88.75" cy="137.33" rx="0.86" ry="0.57" fill="#111" stroke="none"/><ellipse cx="81.41" cy="136.11" rx="0.57" ry="0.5" fill="#111" stroke="none"/><ellipse cx="69.99" cy="155.61" rx="0.5" ry="0.5" fill="#111" stroke="none"/><ellipse cx="70.4" cy="150.73" rx="0.5" ry="0.5" fill="#111" stroke="none"/><ellipse cx="73.26" cy="168.6" rx="0.5" ry="0.5" fill="#111" stroke="none"/><ellipse cx="72.44" cy="164.14" rx="0.5" ry="0.5" fill="#111" stroke="none"/><ellipse cx="54.5" cy="143.02" rx="0.68" ry="0.68" fill="#111" stroke="none"/><ellipse cx="67.55" cy="177.95" rx="0.57" ry="0.57" fill="#111" stroke="none"/><ellipse cx="69.99" cy="180.38" rx="0.57" ry="0.5" fill="#111" stroke="none"/><ellipse cx="73.26" cy="176.32" rx="0.5" ry="0.5" fill="#111" stroke="none"/><ellipse cx="73.66" cy="180.79" rx="0.5" ry="0.5" fill="#111" stroke="none"/><ellipse cx="72.85" cy="170.64" rx="0.5" ry="0.5" fill="#111" stroke="none"/><ellipse cx="75.7" cy="91.03" rx="1.14" ry="0.68" fill="#111" stroke="none"/><ellipse cx="76.92" cy="91.84" rx="0.68" ry="0.57" fill="#111" stroke="none"/><ellipse cx="73.26" cy="105.65" rx="0.5" ry="0.5" fill="#111" stroke="none"/><ellipse cx="130" cy="53.5" rx="2" ry="0.6" transform="rotate(-50 130 53.5)" fill="#111" stroke="none"/><ellipse cx="133.5" cy="56" rx="1" ry="0.6" transform="rotate(0 133.5 56)" fill="#111" stroke="none"/><ellipse cx="135" cy="62" rx="0.8" ry="1.8" transform="rotate(20 135 62)" fill="#111" stroke="none"/><ellipse cx="137.5" cy="65" rx="0.7" ry="1.5" transform="rotate(0 137.5 65)" fill="#111" stroke="none"/><ellipse cx="136.5" cy="70" rx="0.7" ry="1.2" transform="rotate(0 136.5 70)" fill="#111" stroke="none"/><ellipse cx="138.5" cy="73" rx="0.6" ry="1.6" transform="rotate(0 138.5 73)" fill="#111" stroke="none"/><ellipse cx="138.8" cy="100.5" rx="0.6" ry="0.6" transform="rotate(0 138.8 100.5)" fill="#111" stroke="none"/><ellipse cx="136.5" cy="103" rx="0.9" ry="0.6" transform="rotate(-40 136.5 103)" fill="#111" stroke="none"/><ellipse cx="134" cy="106" rx="0.7" ry="0.5" transform="rotate(0 134 106)" fill="#111" stroke="none"/><ellipse cx="131.5" cy="108.5" rx="1.3" ry="0.6" transform="rotate(-45 131.5 108.5)" fill="#111" stroke="none"/><ellipse cx="129" cy="111" rx="0.6" ry="0.5" transform="rotate(0 129 111)" fill="#111" stroke="none"/><ellipse cx="126.5" cy="114" rx="1.5" ry="0.7" transform="rotate(-50 126.5 114)" fill="#111" stroke="none"/><ellipse cx="123.5" cy="117" rx="0.7" ry="0.5" transform="rotate(0 123.5 117)" fill="#111" stroke="none"/><ellipse cx="121" cy="119.5" rx="1.2" ry="0.6" transform="rotate(-40 121 119.5)" fill="#111" stroke="none"/><ellipse cx="118.5" cy="122.5" rx="0.8" ry="0.5" transform="rotate(0 118.5 122.5)" fill="#111" stroke="none"/><ellipse cx="112" cy="123" rx="0.8" ry="0.5" transform="rotate(0 112 123)" fill="#111" stroke="none"/><ellipse cx="107" cy="121.5" rx="0.9" ry="0.6" transform="rotate(-20 107 121.5)" fill="#111" stroke="none"/></g><g fill="#e6e9ec"><polygon points="56.5,54.5 58.2,55.5 61,61.1 63.75,66.6 66.5,69.9 63,70.5 59.5,62 56,55.5"/><polygon points="62.5,70.8 66.5,70.2 70.2,73.3 73,76.6 72.5,79 67,78.5 63,76.5"/><polygon points="64,80.5 72.5,80.5 72,85 66,86.5 63.5,84"/></g><path d="M25.15 9.8V221M41.46 9.8V221M57.77 9.8V221M74.07 9.8V221M90.38 9.8V221M106.68 9.8V221M122.99 9.8V221M17 212.88H139.3M17 172.26H139.3M17 131.64H139.3M17 91.03H139.3M17 50.41H139.3" stroke="#808080" stroke-opacity="0.28" stroke-width="0.6" fill="none"/><g fill="#000"><polyline points="138.2,187.9 131.1,177.7 124.9,169.5 116.7,159.2 108.5,151 103.4,142.8 100.3,135.6 96.2,128.4 90,122.3 77.7,115.1 73.9,111.2 70.7,106.9 67.5,103.7 64.8,100.5 62.7,96.8 60.55,93.1 59.5,89.9 58.95,85.6 60,81.3 61.6,77.1 62.7,70.1 58.95,61.6 56.1,56 57.1,52 58.1,48.4 59.2,43.7 56.6,38.6 53,33.5 57.6,31.9 60.2,28.4 62.75,24.8 66.3,23.7 69.9,24.3 73.5,25.8 76.6,28.4 80.7,29.9" fill="none" stroke="#000" stroke-width="0.7"/><circle cx="138.2" cy="187.9" r="1.35"/><circle cx="135.83" cy="184.5" r="1.35"/><circle cx="133.47" cy="181.1" r="1.35"/><circle cx="131.1" cy="177.7" r="1.35"/><circle cx="129.03" cy="174.97" r="1.35"/><circle cx="126.97" cy="172.23" r="1.35"/><circle cx="124.9" cy="169.5" r="1.35"/><circle cx="122.17" cy="166.07" r="1.35"/><circle cx="119.43" cy="162.63" r="1.35"/><circle cx="116.7" cy="159.2" r="1.35"/><circle cx="113.97" cy="156.47" r="1.35"/><circle cx="111.23" cy="153.73" r="1.35"/><circle cx="108.5" cy="151" r="1.35"/><circle cx="105.95" cy="146.9" r="1.35"/><circle cx="103.4" cy="142.8" r="1.35"/><circle cx="101.85" cy="139.2" r="1.35"/><circle cx="100.3" cy="135.6" r="1.35"/><circle cx="98.25" cy="132" r="1.35"/><circle cx="96.2" cy="128.4" r="1.35"/><circle cx="93.1" cy="125.35" r="1.35"/><circle cx="90" cy="122.3" r="1.35"/><circle cx="86.92" cy="120.5" r="1.35"/><circle cx="83.85" cy="118.7" r="1.35"/><circle cx="80.78" cy="116.9" r="1.35"/><circle cx="77.7" cy="115.1" r="1.35"/><circle cx="73.9" cy="111.2" r="1.35"/><circle cx="70.7" cy="106.9" r="1.35"/><circle cx="67.5" cy="103.7" r="1.35"/><circle cx="60.83" cy="65.85" r="1.35"/><circle cx="58.95" cy="61.6" r="1.35"/><circle cx="57.53" cy="58.8" r="1.35"/><circle cx="56.1" cy="56" r="1.35"/><circle cx="57.1" cy="52" r="1.35"/><circle cx="58.1" cy="48.4" r="1.35"/><circle cx="59.2" cy="43.7" r="1.35"/><circle cx="56.6" cy="38.6" r="1.35"/><circle cx="54.8" cy="36.05" r="1.35"/><circle cx="53" cy="33.5" r="1.35"/><circle cx="57.6" cy="31.9" r="1.35"/><circle cx="60.2" cy="28.4" r="1.35"/><circle cx="62.75" cy="24.8" r="1.35"/><circle cx="66.3" cy="23.7" r="1.35"/><circle cx="69.9" cy="24.3" r="1.35"/><circle cx="73.5" cy="25.8" r="1.35"/><circle cx="76.6" cy="28.4" r="1.35"/><circle cx="80.7" cy="29.9" r="1.35"/><circle cx="51" cy="32.2" r="1.3"/><circle cx="53" cy="31.8" r="1.3"/><circle cx="55" cy="32.6" r="1.3"/><circle cx="52" cy="34.6" r="1.3"/><circle cx="54.2" cy="35" r="1.3"/><circle cx="53" cy="33.5" r="1.3"/><circle cx="50.8" cy="33.8" r="1.3"/></g><polyline points="62.3,69.2 62.3,73.6 60.6,78.1 59.8,82.5 60.3,87 61.5,91.4 63.1,95.9 64.7,100.3" fill="none" stroke="#0000ff" stroke-width="1.1"/><circle cx="62.3" cy="69.2" r="1.45" fill="#0000ff"/><circle cx="62.3" cy="73.6" r="1.45" fill="#0000ff"/><circle cx="60.6" cy="78.1" r="1.45" fill="#0000ff"/><circle cx="59.8" cy="82.5" r="1.45" fill="#0000ff"/><circle cx="60.3" cy="87" r="1.45" fill="#0000ff"/><circle cx="61.5" cy="91.4" r="1.45" fill="#0000ff"/><circle cx="63.1" cy="95.9" r="1.45" fill="#0000ff"/><circle cx="64.7" cy="100.3" r="1.45" fill="#0000ff"/><circle cx="62.3" cy="69.2" r="13.5" fill="none" stroke="#000" stroke-width="0.95"/><circle cx="62.3" cy="73.6" r="13.5" fill="none" stroke="#000" stroke-width="0.95"/><circle cx="60.6" cy="78.1" r="13.5" fill="none" stroke="#000" stroke-width="0.95"/><circle cx="59.8" cy="82.5" r="13.5" fill="none" stroke="#000" stroke-width="0.95"/><circle cx="60.3" cy="87" r="13.5" fill="none" stroke="#000" stroke-width="0.95"/><circle cx="61.5" cy="91.4" r="13.5" fill="none" stroke="#000" stroke-width="0.95"/><circle cx="63.1" cy="95.9" r="13.5" fill="none" stroke="#000" stroke-width="0.95"/><circle cx="64.7" cy="100.3" r="13.5" fill="none" stroke="#000" stroke-width="0.95"/>
</svg>
<rect x="17" y="266.1" width="122.3" height="211.2" fill="none" stroke="#333" stroke-width="0.7"/>
<text class="k" x="14.8" y="308.42" text-anchor="end">35°N</text>
<text class="k" x="14.8" y="349.03" text-anchor="end">30°N</text>
<text class="k" x="14.8" y="389.65" text-anchor="end">25°N</text>
<text class="k" x="14.8" y="430.26" text-anchor="end">20°N</text>
<text class="k" x="14.8" y="470.88" text-anchor="end">15°N</text>
<text class="k" x="25.15" y="483.3" text-anchor="middle">116°E</text>
<text class="k" x="41.46" y="483.3" text-anchor="middle">118°E</text>
<text class="k" x="57.77" y="483.3" text-anchor="middle">120°E</text>
<text class="k" x="74.07" y="483.3" text-anchor="middle">122°E</text>
<text class="k" x="90.38" y="483.3" text-anchor="middle">124°E</text>
<text class="k" x="106.69" y="483.3" text-anchor="middle">126°E</text>
<text class="k" x="122.99" y="483.3" text-anchor="middle">128°E</text>
<polygon points="143.2,306.1 143.2,305.5 146.95,300.2 150.7,305.5 150.7,306.1" fill="#800000"/>
<polygon points="143.2,436.5 143.2,437.1 146.95,443.1 150.7,437.1 150.7,436.5" fill="#000080"/>
<rect x="143.2" y="305.5" width="7.5" height="131.6" fill="url(#jet)"/>
<polygon points="143.2,305.5 146.95,300.2 150.7,305.5 150.7,437.1 146.95,443.1 143.2,437.1" fill="none" stroke="#000" stroke-width="0.4"/>
<line x1="150.7" y1="317.3" x2="152.2" y2="317.3" stroke="#000" stroke-width="0.4"/>
<text class="c" x="154" y="319">30.57</text>
<line x1="150.7" y1="330.62" x2="152.2" y2="330.62" stroke="#000" stroke-width="0.4"/>
<text class="c" x="154" y="332.32">29.23</text>
<line x1="150.7" y1="343.94" x2="152.2" y2="343.94" stroke="#000" stroke-width="0.4"/>
<text class="c" x="154" y="345.64">27.88</text>
<line x1="150.7" y1="357.27" x2="152.2" y2="357.27" stroke="#000" stroke-width="0.4"/>
<text class="c" x="154" y="358.97">26.54</text>
<line x1="150.7" y1="370.59" x2="152.2" y2="370.59" stroke="#000" stroke-width="0.4"/>
<text class="c" x="154" y="372.29">25.19</text>
<line x1="150.7" y1="383.91" x2="152.2" y2="383.91" stroke="#000" stroke-width="0.4"/>
<text class="c" x="154" y="385.61">23.84</text>
<line x1="150.7" y1="397.23" x2="152.2" y2="397.23" stroke="#000" stroke-width="0.4"/>
<text class="c" x="154" y="398.93">22.50</text>
<line x1="150.7" y1="410.56" x2="152.2" y2="410.56" stroke="#000" stroke-width="0.4"/>
<text class="c" x="154" y="412.26">21.15</text>
<line x1="150.7" y1="423.88" x2="152.2" y2="423.88" stroke="#000" stroke-width="0.4"/>
<text class="c" x="154" y="425.58">19.81</text>
<line x1="150.7" y1="437.2" x2="152.2" y2="437.2" stroke="#000" stroke-width="0.4"/>
<text class="c" x="154" y="438.9">18.46</text>
<text class="l" transform="translate(175.4,371.4) rotate(-90)" text-anchor="middle">Temperature (°C)</text>
</g>

<g>
<text class="t" x="263.4" y="263.7" text-anchor="middle">Typhoon Lekima Path on 2019-08-11</text>
<svg x="202.25" y="266.1" width="122.3" height="211.2" viewBox="17 9.8 122.3 211.2" preserveAspectRatio="none" overflow="hidden">
<rect x="17" y="9.8" width="122.3" height="211.2" fill="#ff5c00"/><g filter="url(#bb)"><polygon points="10,0 115,0 112,40 108,62 95,72 70,80 10,80" fill="#ffd020"/><polygon points="95,62 112,58 150,40 150,128 72,128 68,82" fill="#ffa000"/><polygon points="72,118 150,118 150,230 70,230 78,160" fill="#ff6000"/><polygon points="0,150 70,150 76,160 70,230 0,230" fill="#ff5400"/><polygon points="30,110 72,105 75,130 70,150 30,150" fill="#ff8000"/></g><g filter="url(#bl)"><ellipse cx="80" cy="178" rx="13" ry="8" fill="#f01c00"/><polygon points="18,150 30,146 40,138 50,130 58,121 64,110 70,104 74,110 70,120 62,130 54,140 44,150 30,156 18,156" fill="#ffb800"/><ellipse cx="44" cy="141" rx="4" ry="2.5" fill="#c8ff30" transform="rotate(-35 44 141)"/><ellipse cx="65" cy="117" rx="5" ry="9" fill="#ffb800" transform="rotate(35 65 117)"/><ellipse cx="118" cy="160" rx="6" ry="26" fill="#ffc800" transform="rotate(-38 118 160)"/><ellipse cx="88" cy="130" rx="8" ry="6" fill="#f02800"/><ellipse cx="62" cy="18" rx="10" ry="5" fill="#ffc000"/><ellipse cx="44" cy="20" rx="5" ry="4" fill="#ff7000"/><polygon points="76,12 100,12 106,30 100,36 80,34" fill="#c0ff50"/><ellipse cx="94" cy="18" rx="5" ry="5" fill="#40e8e0"/><polygon points="72,36 90,34 96,48 96,68 84,72 74,66" fill="#c8f040"/><ellipse cx="85" cy="62" rx="9" ry="7" fill="#80ff80"/><ellipse cx="97" cy="42" rx="6" ry="7" fill="#ffc000"/><ellipse cx="100" cy="80" rx="12" ry="8" fill="#ffb000"/><ellipse cx="118" cy="70" rx="10" ry="12" fill="#ffa000"/><ellipse cx="57" cy="17" rx="12" ry="7" fill="#ffe000"/><ellipse cx="62" cy="22" rx="7" ry="3" fill="#ffc000"/><ellipse cx="41" cy="20" rx="3" ry="3" fill="#ff8000"/><ellipse cx="86" cy="14" rx="5" ry="3" fill="#ff9000"/><ellipse cx="77" cy="16" rx="3.5" ry="2.2" fill="#c8f040"/><ellipse cx="68" cy="27" rx="6" ry="2" fill="#70ff90"/><polygon points="86,10 95,10 100,18 104,28 108,38 110,48 108,58 100,60 96,48 92,34 88,22" fill="#c0ff40"/><ellipse cx="95.5" cy="18" rx="3.5" ry="6.5" fill="#30d8ff"/><polygon points="100,43 106,42 111,46 111,56 106,60 100,57" fill="#30d8ff"/><ellipse cx="106.8" cy="35" rx="1.8" ry="5" fill="#50ecd0"/><ellipse cx="96" cy="18.7" rx="2" ry="4" fill="#0030ff"/><ellipse cx="106" cy="54" rx="2.2" ry="2.2" fill="#0030ff"/><ellipse cx="107.2" cy="33" rx="1.3" ry="2.2" fill="#0070ff"/><polygon points="119,9 141,9 141,54 134,52 136,40 131,26 124,16" fill="#a0ff60"/><ellipse cx="124" cy="12" rx="5" ry="3" fill="#d0ff30"/><ellipse cx="137" cy="24" rx="4" ry="7" fill="#30e0e0"/><ellipse cx="137" cy="46" rx="3" ry="6" fill="#c0ff40"/><ellipse cx="136.3" cy="33" rx="1.5" ry="5" fill="#0050ff"/><ellipse cx="120" cy="57" rx="12" ry="3" fill="#ffa800"/></g><g fill="#d3d3d3" stroke="#000" stroke-width="1" stroke-linejoin="round"><polygon points="4.77,151.14 17,148.87 21.08,148.3 25.15,147.48 29.23,145.86 31.68,144.4 34.94,142.2 39.18,137.66 41.46,136.11 43.9,134.89 47.17,132.86 49.2,130.02 52.06,127.58 54.67,123.28 55.73,120.68 58.01,116.7 60.21,113.77 62.49,109.96 65.1,107.68 67.47,111.99 68.36,108.9 69.83,106.46 72.11,101.91 74.4,97.28 73.91,93.3 71.14,89.73 67.55,88.59 61.92,87.86 67.55,86.16 73.01,84.94 73.01,80.47 68.36,78.44 65.92,76.81 69.99,76.41 73.42,76.81 70.24,73.08 66.49,69.91 63.72,66.58 61.03,61.14 58.17,55.53 55.32,54.07 52.87,52.45 51.65,50.41 53.69,47.17 56.13,44.73 59.4,42.7 60.21,40.67 63.47,39.04 65.92,37.42 69.99,35.79 74.07,34.98 78.15,34.17 78.96,31.73 75.7,30.92 70.81,30.51 67.55,30.11 64.29,29.7 61.03,30.11 57.77,31.73 53.69,33.36 50.43,32.95 49.2,30.11 49.61,28.08 48.8,26.05 45.54,25.64 41.46,24.02 38.2,21.17 38.61,17.92 41.05,16.3 44.72,17.11 49.61,15.89 52.87,13.05 56.13,9.8 61.84,4.93 69.18,4.93 69.18,9.8 69.59,13.86 70.4,17.52 73.26,17.11 76.52,15.49 79.78,13.05 81.82,11.02 83.04,7.36 92.66,7.36 92.66,10.29 94.86,12.48 97.71,14.84 101.71,17.03 99.35,20.36 97.71,23.77 100.49,26.61 105.05,28.32 109.62,29.38 111.82,30.51 110.68,36.2 111.82,40.67 110.68,45.22 109.62,49.68 110.68,53.1 115.16,54.23 120.79,53.1 126.49,50.82 130.98,48.63 134.4,44.08 134.89,39.61 134.4,32.79 133.18,28.32 129.92,23.77 126.49,20.36 123.07,17.03 119.73,14.84 118.59,11.42 119.73,10.29 121.36,5.74 147.45,1.68 147.45,-30.81 -23.77,-30.81 -23.77,151.14"/><polygon points="71.3,129.37 73.5,131.08 72.85,135.71 71.79,142.2 69.99,147.89 66.73,152.76 64.7,156.58 63.06,153.58 60.78,151.14 59.07,147.08 59.07,143.83 61.03,138.14 63.47,134.08 65.84,131.64"/><polygon points="62.66,183.63 67.55,183.23 75.78,183.63 75.78,186.23 77.5,194.44 75.78,200.12 71.71,205 70.08,209.14 70.89,212.39 74.23,213.2 76.6,215.72 74.97,218.97 79.13,219.78 79.78,225.06 63.47,225.06 63.47,220.59 62.66,216.37 59.4,213.2 57.77,208.33 56.13,203.37 60.21,201.67 61.92,193.46 62.66,186.23"/><polygon points="108.31,63.41 110.76,62.19 114.02,62.6 113.21,64.63 109.94,65.04"/><ellipse cx="133.59" cy="54.48" rx="0.86" ry="1.42" fill="#111" stroke="none"/><ellipse cx="129.51" cy="68.29" rx="1.26" ry="1.42" fill="#111" stroke="none"/><ellipse cx="138.07" cy="66.66" rx="1.71" ry="3.41" fill="#111" stroke="none"/><ellipse cx="138.07" cy="76.41" rx="1.14" ry="2.27" fill="#111" stroke="none"/><ellipse cx="136.03" cy="104.03" rx="0.86" ry="1.14" fill="#111" stroke="none"/><ellipse cx="134.4" cy="105.65" rx="0.68" ry="0.57" fill="#111" stroke="none"/><ellipse cx="130.33" cy="108.09" rx="0.86" ry="0.57" fill="#111" stroke="none"/><ellipse cx="125.43" cy="117.84" rx="1.43" ry="1.14" fill="#111" stroke="none"/><ellipse cx="122.17" cy="120.27" rx="1.71" ry="1.42" fill="#111" stroke="none"/><ellipse cx="120.54" cy="121.9" rx="1.14" ry="1.42" fill="#111" stroke="none"/><ellipse cx="106.68" cy="135.71" rx="0.57" ry="0.5" fill="#111" stroke="none"/><ellipse cx="100.98" cy="133.27" rx="0.86" ry="0.57" fill="#111" stroke="none"/><ellipse cx="92.01" cy="136.52" rx="1.14" ry="0.57" fill="#111" stroke="none"/><ellipse cx="88.75" cy="137.33" rx="0.86" ry="0.57" fill="#111" stroke="none"/><ellipse cx="81.41" cy="136.11" rx="0.57" ry="0.5" fill="#111" stroke="none"/><ellipse cx="69.99" cy="155.61" rx="0.5" ry="0.5" fill="#111" stroke="none"/><ellipse cx="70.4" cy="150.73" rx="0.5" ry="0.5" fill="#111" stroke="none"/><ellipse cx="73.26" cy="168.6" rx="0.5" ry="0.5" fill="#111" stroke="none"/><ellipse cx="72.44" cy="164.14" rx="0.5" ry="0.5" fill="#111" stroke="none"/><ellipse cx="54.5" cy="143.02" rx="0.68" ry="0.68" fill="#111" stroke="none"/><ellipse cx="67.55" cy="177.95" rx="0.57" ry="0.57" fill="#111" stroke="none"/><ellipse cx="69.99" cy="180.38" rx="0.57" ry="0.5" fill="#111" stroke="none"/><ellipse cx="73.26" cy="176.32" rx="0.5" ry="0.5" fill="#111" stroke="none"/><ellipse cx="73.66" cy="180.79" rx="0.5" ry="0.5" fill="#111" stroke="none"/><ellipse cx="72.85" cy="170.64" rx="0.5" ry="0.5" fill="#111" stroke="none"/><ellipse cx="75.7" cy="91.03" rx="1.14" ry="0.68" fill="#111" stroke="none"/><ellipse cx="76.92" cy="91.84" rx="0.68" ry="0.57" fill="#111" stroke="none"/><ellipse cx="73.26" cy="105.65" rx="0.5" ry="0.5" fill="#111" stroke="none"/><ellipse cx="130" cy="53.5" rx="2" ry="0.6" transform="rotate(-50 130 53.5)" fill="#111" stroke="none"/><ellipse cx="133.5" cy="56" rx="1" ry="0.6" transform="rotate(0 133.5 56)" fill="#111" stroke="none"/><ellipse cx="135" cy="62" rx="0.8" ry="1.8" transform="rotate(20 135 62)" fill="#111" stroke="none"/><ellipse cx="137.5" cy="65" rx="0.7" ry="1.5" transform="rotate(0 137.5 65)" fill="#111" stroke="none"/><ellipse cx="136.5" cy="70" rx="0.7" ry="1.2" transform="rotate(0 136.5 70)" fill="#111" stroke="none"/><ellipse cx="138.5" cy="73" rx="0.6" ry="1.6" transform="rotate(0 138.5 73)" fill="#111" stroke="none"/><ellipse cx="138.8" cy="100.5" rx="0.6" ry="0.6" transform="rotate(0 138.8 100.5)" fill="#111" stroke="none"/><ellipse cx="136.5" cy="103" rx="0.9" ry="0.6" transform="rotate(-40 136.5 103)" fill="#111" stroke="none"/><ellipse cx="134" cy="106" rx="0.7" ry="0.5" transform="rotate(0 134 106)" fill="#111" stroke="none"/><ellipse cx="131.5" cy="108.5" rx="1.3" ry="0.6" transform="rotate(-45 131.5 108.5)" fill="#111" stroke="none"/><ellipse cx="129" cy="111" rx="0.6" ry="0.5" transform="rotate(0 129 111)" fill="#111" stroke="none"/><ellipse cx="126.5" cy="114" rx="1.5" ry="0.7" transform="rotate(-50 126.5 114)" fill="#111" stroke="none"/><ellipse cx="123.5" cy="117" rx="0.7" ry="0.5" transform="rotate(0 123.5 117)" fill="#111" stroke="none"/><ellipse cx="121" cy="119.5" rx="1.2" ry="0.6" transform="rotate(-40 121 119.5)" fill="#111" stroke="none"/><ellipse cx="118.5" cy="122.5" rx="0.8" ry="0.5" transform="rotate(0 118.5 122.5)" fill="#111" stroke="none"/><ellipse cx="112" cy="123" rx="0.8" ry="0.5" transform="rotate(0 112 123)" fill="#111" stroke="none"/><ellipse cx="107" cy="121.5" rx="0.9" ry="0.6" transform="rotate(-20 107 121.5)" fill="#111" stroke="none"/></g><g fill="#e6e9ec"><polygon points="56.5,54.5 58.2,55.5 61,61.1 63.75,66.6 66.5,69.9 63,70.5 59.5,62 56,55.5"/><polygon points="62.5,70.8 66.5,70.2 70.2,73.3 73,76.6 72.5,79 67,78.5 63,76.5"/><polygon points="64,80.5 72.5,80.5 72,85 66,86.5 63.5,84"/></g><path d="M25.15 9.8V221M41.46 9.8V221M57.77 9.8V221M74.07 9.8V221M90.38 9.8V221M106.68 9.8V221M122.99 9.8V221M17 212.88H139.3M17 172.26H139.3M17 131.64H139.3M17 91.03H139.3M17 50.41H139.3" stroke="#808080" stroke-opacity="0.28" stroke-width="0.6" fill="none"/><g fill="#000"><polyline points="138.2,187.9 131.1,177.7 124.9,169.5 116.7,159.2 108.5,151 103.4,142.8 100.3,135.6 96.2,128.4 90,122.3 77.7,115.1 73.9,111.2 70.7,106.9 67.5,103.7 64.8,100.5 62.7,96.8 60.55,93.1 59.5,89.9 58.95,85.6 60,81.3 61.6,77.1 62.7,70.1 58.95,61.6 56.1,56 57.1,52 58.1,48.4 59.2,43.7 56.6,38.6 53,33.5 57.6,31.9 60.2,28.4 62.75,24.8 66.3,23.7 69.9,24.3 73.5,25.8 76.6,28.4 80.7,29.9" fill="none" stroke="#000" stroke-width="0.7"/><circle cx="138.2" cy="187.9" r="1.35"/><circle cx="135.83" cy="184.5" r="1.35"/><circle cx="133.47" cy="181.1" r="1.35"/><circle cx="131.1" cy="177.7" r="1.35"/><circle cx="129.03" cy="174.97" r="1.35"/><circle cx="126.97" cy="172.23" r="1.35"/><circle cx="124.9" cy="169.5" r="1.35"/><circle cx="122.17" cy="166.07" r="1.35"/><circle cx="119.43" cy="162.63" r="1.35"/><circle cx="116.7" cy="159.2" r="1.35"/><circle cx="113.97" cy="156.47" r="1.35"/><circle cx="111.23" cy="153.73" r="1.35"/><circle cx="108.5" cy="151" r="1.35"/><circle cx="105.95" cy="146.9" r="1.35"/><circle cx="103.4" cy="142.8" r="1.35"/><circle cx="101.85" cy="139.2" r="1.35"/><circle cx="100.3" cy="135.6" r="1.35"/><circle cx="98.25" cy="132" r="1.35"/><circle cx="96.2" cy="128.4" r="1.35"/><circle cx="93.1" cy="125.35" r="1.35"/><circle cx="90" cy="122.3" r="1.35"/><circle cx="86.92" cy="120.5" r="1.35"/><circle cx="83.85" cy="118.7" r="1.35"/><circle cx="80.78" cy="116.9" r="1.35"/><circle cx="77.7" cy="115.1" r="1.35"/><circle cx="73.9" cy="111.2" r="1.35"/><circle cx="70.7" cy="106.9" r="1.35"/><circle cx="67.5" cy="103.7" r="1.35"/><circle cx="64.8" cy="100.5" r="1.35"/><circle cx="62.7" cy="96.8" r="1.35"/><circle cx="60.55" cy="93.1" r="1.35"/><circle cx="59.5" cy="89.9" r="1.35"/><circle cx="58.95" cy="85.6" r="1.35"/><circle cx="60" cy="81.3" r="1.35"/><circle cx="61.6" cy="77.1" r="1.35"/><circle cx="62.15" cy="73.6" r="1.35"/><circle cx="62.7" cy="70.1" r="1.35"/><circle cx="60.83" cy="65.85" r="1.35"/><circle cx="57.6" cy="31.9" r="1.35"/><circle cx="60.2" cy="28.4" r="1.35"/><circle cx="62.75" cy="24.8" r="1.35"/><circle cx="66.3" cy="23.7" r="1.35"/><circle cx="69.9" cy="24.3" r="1.35"/><circle cx="73.5" cy="25.8" r="1.35"/><circle cx="76.6" cy="28.4" r="1.35"/><circle cx="80.7" cy="29.9" r="1.35"/><circle cx="51" cy="32.2" r="1.3"/><circle cx="53" cy="31.8" r="1.3"/><circle cx="55" cy="32.6" r="1.3"/><circle cx="52" cy="34.6" r="1.3"/><circle cx="54.2" cy="35" r="1.3"/><circle cx="53" cy="33.5" r="1.3"/><circle cx="50.8" cy="33.8" r="1.3"/></g><polyline points="51.2,31 54.5,34.5 56.6,38.6 59.2,43.7 58.1,48.4 57.1,52 56.1,56 58.95,61.6" fill="none" stroke="#0000ff" stroke-width="1.1"/><circle cx="51.2" cy="31" r="1.45" fill="#0000ff"/><circle cx="54.5" cy="34.5" r="1.45" fill="#0000ff"/><circle cx="56.6" cy="38.6" r="1.45" fill="#0000ff"/><circle cx="59.2" cy="43.7" r="1.45" fill="#0000ff"/><circle cx="58.1" cy="48.4" r="1.45" fill="#0000ff"/><circle cx="57.1" cy="52" r="1.45" fill="#0000ff"/><circle cx="56.1" cy="56" r="1.45" fill="#0000ff"/><circle cx="58.95" cy="61.6" r="1.45" fill="#0000ff"/><circle cx="51.2" cy="31" r="13.5" fill="none" stroke="#000" stroke-width="0.95"/><circle cx="54.5" cy="34.5" r="13.5" fill="none" stroke="#000" stroke-width="0.95"/><circle cx="56.6" cy="38.6" r="13.5" fill="none" stroke="#000" stroke-width="0.95"/><circle cx="59.2" cy="43.7" r="13.5" fill="none" stroke="#000" stroke-width="0.95"/><circle cx="58.1" cy="48.4" r="13.5" fill="none" stroke="#000" stroke-width="0.95"/><circle cx="57.1" cy="52" r="13.5" fill="none" stroke="#000" stroke-width="0.95"/><circle cx="56.1" cy="56" r="13.5" fill="none" stroke="#000" stroke-width="0.95"/><circle cx="58.95" cy="61.6" r="13.5" fill="none" stroke="#000" stroke-width="0.95"/>
</svg>
<rect x="202.25" y="266.1" width="122.3" height="211.2" fill="none" stroke="#333" stroke-width="0.7"/>
<text class="k" x="200.05" y="308.42" text-anchor="end">35°N</text>
<text class="k" x="200.05" y="349.03" text-anchor="end">30°N</text>
<text class="k" x="200.05" y="389.65" text-anchor="end">25°N</text>
<text class="k" x="200.05" y="430.26" text-anchor="end">20°N</text>
<text class="k" x="200.05" y="470.88" text-anchor="end">15°N</text>
<text class="k" x="210.4" y="483.3" text-anchor="middle">116°E</text>
<text class="k" x="226.71" y="483.3" text-anchor="middle">118°E</text>
<text class="k" x="243.02" y="483.3" text-anchor="middle">120°E</text>
<text class="k" x="259.32" y="483.3" text-anchor="middle">122°E</text>
<text class="k" x="275.63" y="483.3" text-anchor="middle">124°E</text>
<text class="k" x="291.94" y="483.3" text-anchor="middle">126°E</text>
<text class="k" x="308.24" y="483.3" text-anchor="middle">128°E</text>
<polygon points="328.45,306.1 328.45,305.5 332.2,300.2 335.95,305.5 335.95,306.1" fill="#800000"/>
<polygon points="328.45,436.5 328.45,437.1 332.2,443.1 335.95,437.1 335.95,436.5" fill="#000080"/>
<rect x="328.45" y="305.5" width="7.5" height="131.6" fill="url(#jet)"/>
<polygon points="328.45,305.5 332.2,300.2 335.95,305.5 335.95,437.1 332.2,443.1 328.45,437.1" fill="none" stroke="#000" stroke-width="0.4"/>
<line x1="335.95" y1="317.3" x2="337.45" y2="317.3" stroke="#000" stroke-width="0.4"/>
<text class="c" x="339.25" y="319">30.57</text>
<line x1="335.95" y1="330.62" x2="337.45" y2="330.62" stroke="#000" stroke-width="0.4"/>
<text class="c" x="339.25" y="332.32">29.23</text>
<line x1="335.95" y1="343.94" x2="337.45" y2="343.94" stroke="#000" stroke-width="0.4"/>
<text class="c" x="339.25" y="345.64">27.88</text>
<line x1="335.95" y1="357.27" x2="337.45" y2="357.27" stroke="#000" stroke-width="0.4"/>
<text class="c" x="339.25" y="358.97">26.54</text>
<line x1="335.95" y1="370.59" x2="337.45" y2="370.59" stroke="#000" stroke-width="0.4"/>
<text class="c" x="339.25" y="372.29">25.19</text>
<line x1="335.95" y1="383.91" x2="337.45" y2="383.91" stroke="#000" stroke-width="0.4"/>
<text class="c" x="339.25" y="385.61">23.84</text>
<line x1="335.95" y1="397.23" x2="337.45" y2="397.23" stroke="#000" stroke-width="0.4"/>
<text class="c" x="339.25" y="398.93">22.50</text>
<line x1="335.95" y1="410.56" x2="337.45" y2="410.56" stroke="#000" stroke-width="0.4"/>
<text class="c" x="339.25" y="412.26">21.15</text>
<line x1="335.95" y1="423.88" x2="337.45" y2="423.88" stroke="#000" stroke-width="0.4"/>
<text class="c" x="339.25" y="425.58">19.81</text>
<line x1="335.95" y1="437.2" x2="337.45" y2="437.2" stroke="#000" stroke-width="0.4"/>
<text class="c" x="339.25" y="438.9">18.46</text>
<text class="l" transform="translate(360.65,371.4) rotate(-90)" text-anchor="middle">Temperature (°C)</text>
</g>

<g>
<text class="t" x="448.65" y="263.7" text-anchor="middle">Typhoon Lekima Path on 2019-08-12</text>
<svg x="387.5" y="266.1" width="122.3" height="211.2" viewBox="17 9.8 122.3 211.2" preserveAspectRatio="none" overflow="hidden">
<rect x="17" y="9.8" width="122.3" height="211.2" fill="#ff5800"/><g filter="url(#bb)"><polygon points="10,0 115,0 112,40 108,62 95,72 70,80 10,80" fill="#ffc820"/><polygon points="95,62 112,58 150,40 150,128 72,128 68,82" fill="#ff7800"/><polygon points="72,118 150,118 150,230 70,230 78,160" fill="#ff5800"/><polygon points="0,150 70,150 76,160 70,230 0,230" fill="#ff5000"/><polygon points="30,110 72,105 75,130 70,150 30,150" fill="#ff7800"/></g><g filter="url(#bl)"><ellipse cx="80" cy="178" rx="13" ry="8" fill="#f01c00"/><polygon points="18,150 30,146 40,138 50,130 58,121 64,110 70,104 74,110 70,120 62,130 54,140 44,150 30,156 18,156" fill="#ffb000"/><ellipse cx="44" cy="141" rx="4" ry="2.5" fill="#c8ff30" transform="rotate(-35 44 141)"/><ellipse cx="65" cy="117" rx="5" ry="9" fill="#ffb000" transform="rotate(35 65 117)"/><ellipse cx="118" cy="160" rx="6" ry="26" fill="#ffc800" transform="rotate(-38 118 160)"/><ellipse cx="65" cy="15" rx="11" ry="5" fill="#ffe000"/><ellipse cx="94" cy="19" rx="5" ry="5" fill="#30d8f0"/><polygon points="92,24 106,24 108,38 100,40 92,34" fill="#60f0b0"/><polygon points="80,30 96,30 104,50 96,54 84,48" fill="#c0f040"/><ellipse cx="80" cy="56" rx="7" ry="5" fill="#40e8e0"/><ellipse cx="78" cy="44" rx="12" ry="8" fill="#f8e820"/><ellipse cx="98" cy="64" rx="6" ry="4" fill="#f03000"/><ellipse cx="77" cy="78" rx="4" ry="3" fill="#f02000"/><ellipse cx="66" cy="62" rx="9" ry="7" fill="#ff9000"/><ellipse cx="74" cy="88" rx="6" ry="10" fill="#ffa000"/><ellipse cx="62" cy="50" rx="3" ry="4" fill="#60f0b0"/><ellipse cx="57" cy="17" rx="12" ry="7" fill="#ffe000"/><ellipse cx="62" cy="22" rx="7" ry="3" fill="#ffd000"/><ellipse cx="41" cy="20" rx="3" ry="3" fill="#ff9000"/><ellipse cx="86" cy="14" rx="5" ry="3" fill="#ff9000"/><ellipse cx="77" cy="16" rx="3.5" ry="2.2" fill="#c8f040"/><ellipse cx="68" cy="27" rx="6" ry="2" fill="#70ff90"/><polygon points="86,10 95,10 100,18 104,28 108,38 110,48 108,58 100,60 96,48 92,34 88,22" fill="#c0ff40"/><ellipse cx="95.5" cy="18" rx="3.5" ry="6.5" fill="#30d8ff"/><polygon points="100,43 106,42 111,46 111,56 106,60 100,57" fill="#30d8ff"/><ellipse cx="106.8" cy="35" rx="1.8" ry="5" fill="#50ecd0"/><ellipse cx="96" cy="18.7" rx="2" ry="4" fill="#0030ff"/><ellipse cx="106" cy="54" rx="2.2" ry="2.2" fill="#0030ff"/><ellipse cx="107.2" cy="33" rx="1.3" ry="2.2" fill="#0070ff"/><polygon points="119,9 141,9 141,54 134,52 136,40 131,26 124,16" fill="#a0ff60"/><ellipse cx="124" cy="12" rx="5" ry="3" fill="#d0ff30"/><ellipse cx="137" cy="24" rx="4" ry="7" fill="#30e0e0"/><ellipse cx="137" cy="46" rx="3" ry="6" fill="#c0ff40"/><ellipse cx="136.3" cy="33" rx="1.5" ry="5" fill="#0050ff"/><ellipse cx="120" cy="57" rx="12" ry="3" fill="#ffa800"/></g><g fill="#d3d3d3" stroke="#000" stroke-width="1" stroke-linejoin="round"><polygon points="4.77,151.14 17,148.87 21.08,148.3 25.15,147.48 29.23,145.86 31.68,144.4 34.94,142.2 39.18,137.66 41.46,136.11 43.9,134.89 47.17,132.86 49.2,130.02 52.06,127.58 54.67,123.28 55.73,120.68 58.01,116.7 60.21,113.77 62.49,109.96 65.1,107.68 67.47,111.99 68.36,108.9 69.83,106.46 72.11,101.91 74.4,97.28 73.91,93.3 71.14,89.73 67.55,88.59 61.92,87.86 67.55,86.16 73.01,84.94 73.01,80.47 68.36,78.44 65.92,76.81 69.99,76.41 73.42,76.81 70.24,73.08 66.49,69.91 63.72,66.58 61.03,61.14 58.17,55.53 55.32,54.07 52.87,52.45 51.65,50.41 53.69,47.17 56.13,44.73 59.4,42.7 60.21,40.67 63.47,39.04 65.92,37.42 69.99,35.79 74.07,34.98 78.15,34.17 78.96,31.73 75.7,30.92 70.81,30.51 67.55,30.11 64.29,29.7 61.03,30.11 57.77,31.73 53.69,33.36 50.43,32.95 49.2,30.11 49.61,28.08 48.8,26.05 45.54,25.64 41.46,24.02 38.2,21.17 38.61,17.92 41.05,16.3 44.72,17.11 49.61,15.89 52.87,13.05 56.13,9.8 61.84,4.93 69.18,4.93 69.18,9.8 69.59,13.86 70.4,17.52 73.26,17.11 76.52,15.49 79.78,13.05 81.82,11.02 83.04,7.36 92.66,7.36 92.66,10.29 94.86,12.48 97.71,14.84 101.71,17.03 99.35,20.36 97.71,23.77 100.49,26.61 105.05,28.32 109.62,29.38 111.82,30.51 110.68,36.2 111.82,40.67 110.68,45.22 109.62,49.68 110.68,53.1 115.16,54.23 120.79,53.1 126.49,50.82 130.98,48.63 134.4,44.08 134.89,39.61 134.4,32.79 133.18,28.32 129.92,23.77 126.49,20.36 123.07,17.03 119.73,14.84 118.59,11.42 119.73,10.29 121.36,5.74 147.45,1.68 147.45,-30.81 -23.77,-30.81 -23.77,151.14"/><polygon points="71.3,129.37 73.5,131.08 72.85,135.71 71.79,142.2 69.99,147.89 66.73,152.76 64.7,156.58 63.06,153.58 60.78,151.14 59.07,147.08 59.07,143.83 61.03,138.14 63.47,134.08 65.84,131.64"/><polygon points="62.66,183.63 67.55,183.23 75.78,183.63 75.78,186.23 77.5,194.44 75.78,200.12 71.71,205 70.08,209.14 70.89,212.39 74.23,213.2 76.6,215.72 74.97,218.97 79.13,219.78 79.78,225.06 63.47,225.06 63.47,220.59 62.66,216.37 59.4,213.2 57.77,208.33 56.13,203.37 60.21,201.67 61.92,193.46 62.66,186.23"/><polygon points="108.31,63.41 110.76,62.19 114.02,62.6 113.21,64.63 109.94,65.04"/><ellipse cx="133.59" cy="54.48" rx="0.86" ry="1.42" fill="#111" stroke="none"/><ellipse cx="129.51" cy="68.29" rx="1.26" ry="1.42" fill="#111" stroke="none"/><ellipse cx="138.07" cy="66.66" rx="1.71" ry="3.41" fill="#111" stroke="none"/><ellipse cx="138.07" cy="76.41" rx="1.14" ry="2.27" fill="#111" stroke="none"/><ellipse cx="136.03" cy="104.03" rx="0.86" ry="1.14" fill="#111" stroke="none"/><ellipse cx="134.4" cy="105.65" rx="0.68" ry="0.57" fill="#111" stroke="none"/><ellipse cx="130.33" cy="108.09" rx="0.86" ry="0.57" fill="#111" stroke="none"/><ellipse cx="125.43" cy="117.84" rx="1.43" ry="1.14" fill="#111" stroke="none"/><ellipse cx="122.17" cy="120.27" rx="1.71" ry="1.42" fill="#111" stroke="none"/><ellipse cx="120.54" cy="121.9" rx="1.14" ry="1.42" fill="#111" stroke="none"/><ellipse cx="106.68" cy="135.71" rx="0.57" ry="0.5" fill="#111" stroke="none"/><ellipse cx="100.98" cy="133.27" rx="0.86" ry="0.57" fill="#111" stroke="none"/><ellipse cx="92.01" cy="136.52" rx="1.14" ry="0.57" fill="#111" stroke="none"/><ellipse cx="88.75" cy="137.33" rx="0.86" ry="0.57" fill="#111" stroke="none"/><ellipse cx="81.41" cy="136.11" rx="0.57" ry="0.5" fill="#111" stroke="none"/><ellipse cx="69.99" cy="155.61" rx="0.5" ry="0.5" fill="#111" stroke="none"/><ellipse cx="70.4" cy="150.73" rx="0.5" ry="0.5" fill="#111" stroke="none"/><ellipse cx="73.26" cy="168.6" rx="0.5" ry="0.5" fill="#111" stroke="none"/><ellipse cx="72.44" cy="164.14" rx="0.5" ry="0.5" fill="#111" stroke="none"/><ellipse cx="54.5" cy="143.02" rx="0.68" ry="0.68" fill="#111" stroke="none"/><ellipse cx="67.55" cy="177.95" rx="0.57" ry="0.57" fill="#111" stroke="none"/><ellipse cx="69.99" cy="180.38" rx="0.57" ry="0.5" fill="#111" stroke="none"/><ellipse cx="73.26" cy="176.32" rx="0.5" ry="0.5" fill="#111" stroke="none"/><ellipse cx="73.66" cy="180.79" rx="0.5" ry="0.5" fill="#111" stroke="none"/><ellipse cx="72.85" cy="170.64" rx="0.5" ry="0.5" fill="#111" stroke="none"/><ellipse cx="75.7" cy="91.03" rx="1.14" ry="0.68" fill="#111" stroke="none"/><ellipse cx="76.92" cy="91.84" rx="0.68" ry="0.57" fill="#111" stroke="none"/><ellipse cx="73.26" cy="105.65" rx="0.5" ry="0.5" fill="#111" stroke="none"/><ellipse cx="130" cy="53.5" rx="2" ry="0.6" transform="rotate(-50 130 53.5)" fill="#111" stroke="none"/><ellipse cx="133.5" cy="56" rx="1" ry="0.6" transform="rotate(0 133.5 56)" fill="#111" stroke="none"/><ellipse cx="135" cy="62" rx="0.8" ry="1.8" transform="rotate(20 135 62)" fill="#111" stroke="none"/><ellipse cx="137.5" cy="65" rx="0.7" ry="1.5" transform="rotate(0 137.5 65)" fill="#111" stroke="none"/><ellipse cx="136.5" cy="70" rx="0.7" ry="1.2" transform="rotate(0 136.5 70)" fill="#111" stroke="none"/><ellipse cx="138.5" cy="73" rx="0.6" ry="1.6" transform="rotate(0 138.5 73)" fill="#111" stroke="none"/><ellipse cx="138.8" cy="100.5" rx="0.6" ry="0.6" transform="rotate(0 138.8 100.5)" fill="#111" stroke="none"/><ellipse cx="136.5" cy="103" rx="0.9" ry="0.6" transform="rotate(-40 136.5 103)" fill="#111" stroke="none"/><ellipse cx="134" cy="106" rx="0.7" ry="0.5" transform="rotate(0 134 106)" fill="#111" stroke="none"/><ellipse cx="131.5" cy="108.5" rx="1.3" ry="0.6" transform="rotate(-45 131.5 108.5)" fill="#111" stroke="none"/><ellipse cx="129" cy="111" rx="0.6" ry="0.5" transform="rotate(0 129 111)" fill="#111" stroke="none"/><ellipse cx="126.5" cy="114" rx="1.5" ry="0.7" transform="rotate(-50 126.5 114)" fill="#111" stroke="none"/><ellipse cx="123.5" cy="117" rx="0.7" ry="0.5" transform="rotate(0 123.5 117)" fill="#111" stroke="none"/><ellipse cx="121" cy="119.5" rx="1.2" ry="0.6" transform="rotate(-40 121 119.5)" fill="#111" stroke="none"/><ellipse cx="118.5" cy="122.5" rx="0.8" ry="0.5" transform="rotate(0 118.5 122.5)" fill="#111" stroke="none"/><ellipse cx="112" cy="123" rx="0.8" ry="0.5" transform="rotate(0 112 123)" fill="#111" stroke="none"/><ellipse cx="107" cy="121.5" rx="0.9" ry="0.6" transform="rotate(-20 107 121.5)" fill="#111" stroke="none"/></g><g fill="#e6e9ec"><polygon points="56.5,54.5 58.2,55.5 61,61.1 63.75,66.6 66.5,69.9 63,70.5 59.5,62 56,55.5"/><polygon points="62.5,70.8 66.5,70.2 70.2,73.3 73,76.6 72.5,79 67,78.5 63,76.5"/><polygon points="64,80.5 72.5,80.5 72,85 66,86.5 63.5,84"/></g><path d="M25.15 9.8V221M41.46 9.8V221M57.77 9.8V221M74.07 9.8V221M90.38 9.8V221M106.68 9.8V221M122.99 9.8V221M17 212.88H139.3M17 172.26H139.3M17 131.64H139.3M17 91.03H139.3M17 50.41H139.3" stroke="#808080" stroke-opacity="0.28" stroke-width="0.6" fill="none"/><g fill="#000"><polyline points="138.2,187.9 131.1,177.7 124.9,169.5 116.7,159.2 108.5,151 103.4,142.8 100.3,135.6 96.2,128.4 90,122.3 77.7,115.1 73.9,111.2 70.7,106.9 67.5,103.7 64.8,100.5 62.7,96.8 60.55,93.1 59.5,89.9 58.95,85.6 60,81.3 61.6,77.1 62.7,70.1 58.95,61.6 56.1,56 57.1,52 58.1,48.4 59.2,43.7 56.6,38.6 53,33.5 57.6,31.9 60.2,28.4 62.75,24.8 66.3,23.7 69.9,24.3 73.5,25.8 76.6,28.4 80.7,29.9" fill="none" stroke="#000" stroke-width="0.7"/><circle cx="138.2" cy="187.9" r="1.35"/><circle cx="135.83" cy="184.5" r="1.35"/><circle cx="133.47" cy="181.1" r="1.35"/><circle cx="131.1" cy="177.7" r="1.35"/><circle cx="129.03" cy="174.97" r="1.35"/><circle cx="126.97" cy="172.23" r="1.35"/><circle cx="124.9" cy="169.5" r="1.35"/><circle cx="122.17" cy="166.07" r="1.35"/><circle cx="119.43" cy="162.63" r="1.35"/><circle cx="116.7" cy="159.2" r="1.35"/><circle cx="113.97" cy="156.47" r="1.35"/><circle cx="111.23" cy="153.73" r="1.35"/><circle cx="108.5" cy="151" r="1.35"/><circle cx="105.95" cy="146.9" r="1.35"/><circle cx="103.4" cy="142.8" r="1.35"/><circle cx="101.85" cy="139.2" r="1.35"/><circle cx="100.3" cy="135.6" r="1.35"/><circle cx="98.25" cy="132" r="1.35"/><circle cx="96.2" cy="128.4" r="1.35"/><circle cx="93.1" cy="125.35" r="1.35"/><circle cx="90" cy="122.3" r="1.35"/><circle cx="86.92" cy="120.5" r="1.35"/><circle cx="83.85" cy="118.7" r="1.35"/><circle cx="80.78" cy="116.9" r="1.35"/><circle cx="77.7" cy="115.1" r="1.35"/><circle cx="73.9" cy="111.2" r="1.35"/><circle cx="70.7" cy="106.9" r="1.35"/><circle cx="67.5" cy="103.7" r="1.35"/><circle cx="64.8" cy="100.5" r="1.35"/><circle cx="62.7" cy="96.8" r="1.35"/><circle cx="60.55" cy="93.1" r="1.35"/><circle cx="59.5" cy="89.9" r="1.35"/><circle cx="58.95" cy="85.6" r="1.35"/><circle cx="60" cy="81.3" r="1.35"/><circle cx="61.6" cy="77.1" r="1.35"/><circle cx="62.15" cy="73.6" r="1.35"/><circle cx="62.7" cy="70.1" r="1.35"/><circle cx="60.83" cy="65.85" r="1.35"/><circle cx="58.95" cy="61.6" r="1.35"/><circle cx="57.53" cy="58.8" r="1.35"/><circle cx="56.1" cy="56" r="1.35"/><circle cx="57.1" cy="52" r="1.35"/><circle cx="58.1" cy="48.4" r="1.35"/><circle cx="59.2" cy="43.7" r="1.35"/><circle cx="56.6" cy="38.6" r="1.35"/><circle cx="57.6" cy="31.9" r="1.35"/><circle cx="60.2" cy="28.4" r="1.35"/><circle cx="62.75" cy="24.8" r="1.35"/><circle cx="66.3" cy="23.7" r="1.35"/><circle cx="69.9" cy="24.3" r="1.35"/><circle cx="73.5" cy="25.8" r="1.35"/><circle cx="76.6" cy="28.4" r="1.35"/><circle cx="80.7" cy="29.9" r="1.35"/></g><circle cx="51" cy="32" r="1.7" fill="#0000ff"/><circle cx="53" cy="31.5" r="1.7" fill="#0000ff"/><circle cx="55" cy="32.5" r="1.7" fill="#0000ff"/><circle cx="51.5" cy="34.5" r="1.7" fill="#0000ff"/><circle cx="53.5" cy="35.5" r="1.7" fill="#0000ff"/><circle cx="55.5" cy="34.5" r="1.7" fill="#0000ff"/><circle cx="53" cy="33.5" r="1.7" fill="#0000ff"/><circle cx="50.5" cy="33.5" r="1.7" fill="#0000ff"/><circle cx="51.8" cy="32.9" r="15.6" fill="none" stroke="#000" stroke-width="0.8"/><circle cx="51.5" cy="33.2" r="15" fill="none" stroke="#000" stroke-width="0.8"/><circle cx="52.1" cy="32.6" r="14.3" fill="none" stroke="#000" stroke-width="0.8"/><circle cx="51.7" cy="33.1" r="13.6" fill="none" stroke="#000" stroke-width="0.8"/><circle cx="52" cy="32.8" r="12.9" fill="none" stroke="#000" stroke-width="0.8"/><circle cx="51.6" cy="32.7" r="12.4" fill="none" stroke="#000" stroke-width="0.8"/><circle cx="51.9" cy="33.3" r="14.7" fill="none" stroke="#000" stroke-width="0.8"/><circle cx="52.2" cy="32.9" r="13.2" fill="none" stroke="#000" stroke-width="0.8"/>
</svg>
<rect x="387.5" y="266.1" width="122.3" height="211.2" fill="none" stroke="#333" stroke-width="0.7"/>
<text class="k" x="385.3" y="308.42" text-anchor="end">35°N</text>
<text class="k" x="385.3" y="349.03" text-anchor="end">30°N</text>
<text class="k" x="385.3" y="389.65" text-anchor="end">25°N</text>
<text class="k" x="385.3" y="430.26" text-anchor="end">20°N</text>
<text class="k" x="385.3" y="470.88" text-anchor="end">15°N</text>
<text class="k" x="395.65" y="483.3" text-anchor="middle">116°E</text>
<text class="k" x="411.96" y="483.3" text-anchor="middle">118°E</text>
<text class="k" x="428.27" y="483.3" text-anchor="middle">120°E</text>
<text class="k" x="444.57" y="483.3" text-anchor="middle">122°E</text>
<text class="k" x="460.88" y="483.3" text-anchor="middle">124°E</text>
<text class="k" x="477.19" y="483.3" text-anchor="middle">126°E</text>
<text class="k" x="493.49" y="483.3" text-anchor="middle">128°E</text>
<polygon points="513.7,306.1 513.7,305.5 517.45,300.2 521.2,305.5 521.2,306.1" fill="#800000"/>
<polygon points="513.7,436.5 513.7,437.1 517.45,443.1 521.2,437.1 521.2,436.5" fill="#000080"/>
<rect x="513.7" y="305.5" width="7.5" height="131.6" fill="url(#jet)"/>
<polygon points="513.7,305.5 517.45,300.2 521.2,305.5 521.2,437.1 517.45,443.1 513.7,437.1" fill="none" stroke="#000" stroke-width="0.4"/>
<line x1="521.2" y1="317.3" x2="522.7" y2="317.3" stroke="#000" stroke-width="0.4"/>
<text class="c" x="524.5" y="319">30.57</text>
<line x1="521.2" y1="330.62" x2="522.7" y2="330.62" stroke="#000" stroke-width="0.4"/>
<text class="c" x="524.5" y="332.32">29.23</text>
<line x1="521.2" y1="343.94" x2="522.7" y2="343.94" stroke="#000" stroke-width="0.4"/>
<text class="c" x="524.5" y="345.64">27.88</text>
<line x1="521.2" y1="357.27" x2="522.7" y2="357.27" stroke="#000" stroke-width="0.4"/>
<text class="c" x="524.5" y="358.97">26.54</text>
<line x1="521.2" y1="370.59" x2="522.7" y2="370.59" stroke="#000" stroke-width="0.4"/>
<text class="c" x="524.5" y="372.29">25.19</text>
<line x1="521.2" y1="383.91" x2="522.7" y2="383.91" stroke="#000" stroke-width="0.4"/>
<text class="c" x="524.5" y="385.61">23.84</text>
<line x1="521.2" y1="397.23" x2="522.7" y2="397.23" stroke="#000" stroke-width="0.4"/>
<text class="c" x="524.5" y="398.93">22.50</text>
<line x1="521.2" y1="410.56" x2="522.7" y2="410.56" stroke="#000" stroke-width="0.4"/>
<text class="c" x="524.5" y="412.26">21.15</text>
<line x1="521.2" y1="423.88" x2="522.7" y2="423.88" stroke="#000" stroke-width="0.4"/>
<text class="c" x="524.5" y="425.58">19.81</text>
<line x1="521.2" y1="437.2" x2="522.7" y2="437.2" stroke="#000" stroke-width="0.4"/>
<text class="c" x="524.5" y="438.9">18.46</text>
<text class="l" transform="translate(545.9,371.4) rotate(-90)" text-anchor="middle">Temperature (°C)</text>
</g>

</svg></body></html>
